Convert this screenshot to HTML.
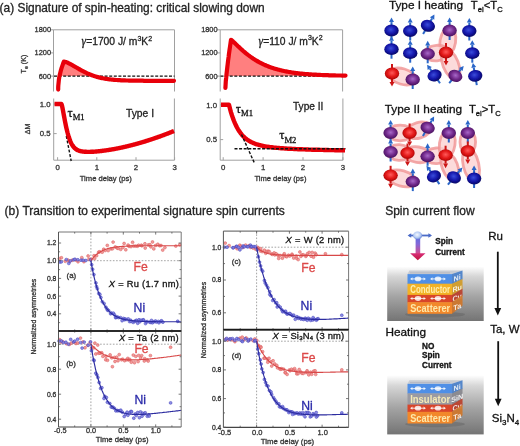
<!DOCTYPE html>
<html><head><meta charset="utf-8"><style>
html,body{margin:0;padding:0;background:#fff;}
svg{display:block;font-family:"Liberation Sans", Arial, sans-serif;}
text{paint-order:stroke;stroke-width:0.3px;stroke-linejoin:round;}
</style></head><body>
<svg width="520" height="446" viewBox="0 0 520 446">
<defs>
<filter id="soft" x="-5%" y="-5%" width="110%" height="110%"><feGaussianBlur stdDeviation="0.35"/></filter>
<radialGradient id="gb" cx="0.45" cy="0.42" r="0.62"><stop offset="0" stop-color="#3a4cdc"/><stop offset="0.55" stop-color="#1416a8"/><stop offset="1" stop-color="#06065a"/></radialGradient>
<radialGradient id="gp" cx="0.5" cy="0.45" r="0.62"><stop offset="0" stop-color="#a868c8"/><stop offset="0.5" stop-color="#722a8c"/><stop offset="1" stop-color="#3a0a50"/></radialGradient>
<radialGradient id="gr" cx="0.5" cy="0.45" r="0.62"><stop offset="0" stop-color="#ff5a5a"/><stop offset="0.55" stop-color="#e01414"/><stop offset="1" stop-color="#980a0a"/></radialGradient>
<linearGradient id="gbg" x1="0" y1="0" x2="0" y2="1"><stop offset="0" stop-color="#ffffff"/><stop offset="0.18" stop-color="#d6d6d6"/><stop offset="0.55" stop-color="#a4a4a4"/><stop offset="1" stop-color="#747474"/></linearGradient>
<linearGradient id="gbg2" x1="0" y1="0" x2="1" y2="0"><stop offset="0" stop-color="#fff" stop-opacity="0"/><stop offset="0.6" stop-color="#fff" stop-opacity="0.05"/><stop offset="1" stop-color="#fff" stop-opacity="0.3"/></linearGradient>
<linearGradient id="gshaft" x1="0" y1="0" x2="0" y2="1"><stop offset="0" stop-color="#5a6ee0"/><stop offset="0.45" stop-color="#8468d8"/><stop offset="1" stop-color="#d64a8a"/></linearGradient>
<linearGradient id="ghead" x1="0" y1="0" x2="0" y2="1"><stop offset="0" stop-color="#d8307a"/><stop offset="1" stop-color="#c0103a"/></linearGradient>
<radialGradient id="gsph" cx="0.45" cy="0.4" r="0.6"><stop offset="0" stop-color="#f4f8ff"/><stop offset="0.6" stop-color="#b8cef4"/><stop offset="1" stop-color="#6a86d8"/></radialGradient>
</defs>
<rect width="520" height="446" fill="#fff"/>
<text x="-0.4" y="11.5" font-size="11.9" fill="#222" stroke="#222" text-anchor="start" >(a) Signature of spin-heating: critical slowing down</text>
<text x="4.6" y="214.6" font-size="12" fill="#222" stroke="#222" text-anchor="start" >(b) Transition to experimental signature spin currents</text>
<text x="385.2" y="214.8" font-size="12" fill="#222" stroke="#222" text-anchor="start" >Spin current flow</text>
<path d="M53.5 91.5V29.8H174.5V91.5" fill="none" stroke="#a0a0a0" stroke-width="1"/>
<line x1="50.5" y1="29.8" x2="53.5" y2="29.8" stroke="#a0a0a0" stroke-width="1"/>
<text x="51" y="32.2" font-size="7.4" fill="#333" stroke="#333" text-anchor="end" >1800</text>
<line x1="50.5" y1="52.9" x2="53.5" y2="52.9" stroke="#a0a0a0" stroke-width="1"/>
<text x="51" y="55.3" font-size="7.4" fill="#333" stroke="#333" text-anchor="end" >1200</text>
<line x1="50.5" y1="76.1" x2="53.5" y2="76.1" stroke="#a0a0a0" stroke-width="1"/>
<text x="51" y="78.5" font-size="7.4" fill="#333" stroke="#333" text-anchor="end" >600</text>
<path d="M220.2 91.5V29.8H342.6V91.5" fill="none" stroke="#a0a0a0" stroke-width="1"/>
<line x1="217.2" y1="29.8" x2="220.2" y2="29.8" stroke="#a0a0a0" stroke-width="1"/>
<text x="217.6" y="32.2" font-size="7.4" fill="#333" stroke="#333" text-anchor="end" >1800</text>
<line x1="217.2" y1="52.9" x2="220.2" y2="52.9" stroke="#a0a0a0" stroke-width="1"/>
<text x="217.6" y="55.3" font-size="7.4" fill="#333" stroke="#333" text-anchor="end" >1200</text>
<line x1="217.2" y1="76.1" x2="220.2" y2="76.1" stroke="#a0a0a0" stroke-width="1"/>
<text x="217.6" y="78.5" font-size="7.4" fill="#333" stroke="#333" text-anchor="end" >600</text>
<polygon points="58.2,76.1 58.2,76.1 58.2,76.1 58.3,76.1 58.5,76.1 58.7,76.1 58.9,76.1 59.2,76.1 59.6,75.6 60.1,73.6 60.6,71.6 61.1,69.6 61.7,67.6 62.4,65.6 63.1,63.6 63.9,61.6 64.9,61.8 65.9,62 66.9,62.4 67.9,62.8 68.9,63.3 69.9,63.8 70.9,64.4 71.9,64.9 72.9,65.5 73.9,66.1 74.9,66.6 75.9,67.2 76.9,67.8 77.9,68.4 78.9,69 79.9,69.5 80.9,70.1 81.9,70.7 82.9,71.2 83.9,71.7 84.9,72.2 85.9,72.7 86.9,73.2 87.9,73.6 88.9,74 89.9,74.5 90.9,74.8 91.9,75.2 92.9,75.6 93.9,75.9 94.9,76.1 95.9,76.1 96.9,76.1 97.9,76.1 98.9,76.1 99.9,76.1 100.9,76.1 101.9,76.1 102.9,76.1 103.9,76.1 104.9,76.1 105.9,76.1 106.9,76.1 107.9,76.1 108.9,76.1 109.9,76.1 110.9,76.1 111.9,76.1 112.9,76.1 113.9,76.1 114.9,76.1 115.9,76.1 116.9,76.1 117.9,76.1 118.9,76.1 119.9,76.1 120.9,76.1 121.9,76.1 122.9,76.1 123.9,76.1 124.9,76.1 125.9,76.1 126.9,76.1 127.9,76.1 128.9,76.1 129.9,76.1 130.9,76.1 131.9,76.1 132.9,76.1 133.9,76.1 134.9,76.1 135.9,76.1 136.9,76.1 137.9,76.1 138.9,76.1 139.9,76.1 140.9,76.1 141.9,76.1 142.9,76.1 143.9,76.1 144.9,76.1 145.9,76.1 146.9,76.1 147.9,76.1 148.9,76.1 149.9,76.1 150.9,76.1 151.9,76.1 152.9,76.1 153.9,76.1 154.9,76.1 155.9,76.1 156.9,76.1 157.9,76.1 158.9,76.1 159.9,76.1 160.9,76.1 161.9,76.1 162.9,76.1 163.9,76.1 164.9,76.1 165.9,76.1 166.9,76.1 167.9,76.1 168.9,76.1 169.9,76.1 170.9,76.1 171.9,76.1 172.9,76.1 173.9,76.1 174,76.1 174,76.1" fill="#ff7f7f"/>
<line x1="54" y1="76.1" x2="174.5" y2="76.1" stroke="#111" stroke-width="1.4" stroke-dasharray="3 1.6"/>
<polyline points="58.2,89.6 58.2,87.6 58.3,85.6 58.5,83.6 58.7,81.6 58.9,79.6 59.2,77.6 59.6,75.6 60.1,73.6 60.6,71.6 61.1,69.6 61.7,67.6 62.4,65.6 63.1,63.6 63.9,61.6 64.9,61.8 65.9,62 66.9,62.4 67.9,62.8 68.9,63.3 69.9,63.8 70.9,64.4 71.9,64.9 72.9,65.5 73.9,66.1 74.9,66.6 75.9,67.2 76.9,67.8 77.9,68.4 78.9,69 79.9,69.5 80.9,70.1 81.9,70.7 82.9,71.2 83.9,71.7 84.9,72.2 85.9,72.7 86.9,73.2 87.9,73.6 88.9,74 89.9,74.5 90.9,74.8 91.9,75.2 92.9,75.6 93.9,75.9 94.9,76.3 95.9,76.6 96.9,76.9 97.9,77.1 98.9,77.4 99.9,77.6 100.9,77.9 101.9,78.1 102.9,78.3 103.9,78.5 104.9,78.7 105.9,78.8 106.9,79 107.9,79.1 108.9,79.3 109.9,79.4 110.9,79.5 111.9,79.6 112.9,79.7 113.9,79.8 114.9,79.9 115.9,80 116.9,80 117.9,80.1 118.9,80.2 119.9,80.2 120.9,80.3 121.9,80.3 122.9,80.4 123.9,80.4 124.9,80.4 125.9,80.5 126.9,80.5 127.9,80.5 128.9,80.6 129.9,80.6 130.9,80.6 131.9,80.6 132.9,80.6 133.9,80.7 134.9,80.7 135.9,80.7 136.9,80.7 137.9,80.7 138.9,80.7 139.9,80.7 140.9,80.7 141.9,80.7 142.9,80.7 143.9,80.8 144.9,80.8 145.9,80.8 146.9,80.8 147.9,80.8 148.9,80.8 149.9,80.8 150.9,80.8 151.9,80.8 152.9,80.8 153.9,80.8 154.9,80.8 155.9,80.8 156.9,80.8 157.9,80.8 158.9,80.8 159.9,80.8 160.9,80.8 161.9,80.8 162.9,80.8 163.9,80.8 164.9,80.8 165.9,80.8 166.9,80.8 167.9,80.8 168.9,80.8 169.9,80.8 170.9,80.8 171.9,80.8 172.9,80.8 173.9,80.8 174,80.8" fill="none" stroke="#e8000a" stroke-width="4.2" stroke-linejoin="round" stroke-linecap="round"/>
<polygon points="225.4,76.1 225.4,76.1 225.6,76.1 225.8,76.1 226.2,76.1 226.5,74.2 226.9,70.8 227.3,67.3 227.7,63.9 228.1,60.5 228.6,57 229,53.6 229.5,50.1 230,46.7 230.5,43.2 231,39.8 232,40.5 233,41.4 234,42.4 235,43.3 236,44.3 237,45.2 238,46.2 239,47.1 240,48.1 241,49 242,49.9 243,50.8 244,51.6 245,52.5 246,53.3 247,54.1 248,54.9 249,55.6 250,56.4 251,57.1 252,57.8 253,58.5 254,59.1 255,59.8 256,60.4 257,61 258,61.5 259,62.1 260,62.6 261,63.1 262,63.6 263,64.1 264,64.6 265,65 266,65.5 267,65.9 268,66.3 269,66.7 270,67.1 271,67.4 272,67.8 273,68.1 274,68.4 275,68.7 276,69 277,69.3 278,69.6 279,69.8 280,70.1 281,70.3 282,70.6 283,70.8 284,71 285,71.2 286,71.4 287,71.6 288,71.8 289,72 290,72.1 291,72.3 292,72.5 293,72.6 294,72.8 295,72.9 296,73 297,73.1 298,73.3 299,73.4 300,73.5 301,73.6 302,73.7 303,73.8 304,73.9 305,74 306,74.1 307,74.2 308,74.2 309,74.3 310,74.4 311,74.4 312,74.5 313,74.6 314,74.6 315,74.7 316,74.7 317,74.8 318,74.8 319,74.9 320,74.9 321,75 322,75 323,75.1 324,75.1 325,75.1 326,75.2 327,75.2 328,75.2 329,75.3 330,75.3 331,75.3 332,75.4 333,75.4 334,75.4 335,75.4 336,75.5 337,75.5 338,75.5 339,75.5 340,75.5 341,75.5 342,75.6 343,75.6 344,75.6 345,75.6 345.5,75.6 345.5,76.1" fill="#ff7f7f"/>
<line x1="220.5" y1="76.1" x2="346" y2="76.1" stroke="#111" stroke-width="1.4" stroke-dasharray="3 1.6"/>
<polyline points="225.4,88 225.6,84.6 225.8,81.1 226.2,77.7 226.5,74.2 226.9,70.8 227.3,67.3 227.7,63.9 228.1,60.5 228.6,57 229,53.6 229.5,50.1 230,46.7 230.5,43.2 231,39.8 232,40.5 233,41.4 234,42.4 235,43.3 236,44.3 237,45.2 238,46.2 239,47.1 240,48.1 241,49 242,49.9 243,50.8 244,51.6 245,52.5 246,53.3 247,54.1 248,54.9 249,55.6 250,56.4 251,57.1 252,57.8 253,58.5 254,59.1 255,59.8 256,60.4 257,61 258,61.5 259,62.1 260,62.6 261,63.1 262,63.6 263,64.1 264,64.6 265,65 266,65.5 267,65.9 268,66.3 269,66.7 270,67.1 271,67.4 272,67.8 273,68.1 274,68.4 275,68.7 276,69 277,69.3 278,69.6 279,69.8 280,70.1 281,70.3 282,70.6 283,70.8 284,71 285,71.2 286,71.4 287,71.6 288,71.8 289,72 290,72.1 291,72.3 292,72.5 293,72.6 294,72.8 295,72.9 296,73 297,73.1 298,73.3 299,73.4 300,73.5 301,73.6 302,73.7 303,73.8 304,73.9 305,74 306,74.1 307,74.2 308,74.2 309,74.3 310,74.4 311,74.4 312,74.5 313,74.6 314,74.6 315,74.7 316,74.7 317,74.8 318,74.8 319,74.9 320,74.9 321,75 322,75 323,75.1 324,75.1 325,75.1 326,75.2 327,75.2 328,75.2 329,75.3 330,75.3 331,75.3 332,75.4 333,75.4 334,75.4 335,75.4 336,75.5 337,75.5 338,75.5 339,75.5 340,75.5 341,75.5 342,75.6 343,75.6 344,75.6 345,75.6 345.5,75.6" fill="none" stroke="#e8000a" stroke-width="4.2" stroke-linejoin="round" stroke-linecap="round"/>
<text x="81.6" y="45.3" font-size="10.3" fill="#222" stroke="#222" text-anchor="start" ><tspan font-family="Liberation Serif" font-style="italic" font-size="11.5">&#947;</tspan>=1700 J/ m<tspan font-size="7" dy="-4.2">3</tspan><tspan dy="4.2">K</tspan><tspan font-size="7" dy="-4.2">2</tspan></text>
<text x="258.6" y="44.6" font-size="10.3" fill="#222" stroke="#222" text-anchor="start" ><tspan font-family="Liberation Serif" font-style="italic" font-size="11.5">&#947;</tspan>=110 J/ m<tspan font-size="7" dy="-4.2">3</tspan><tspan dy="4.2">K</tspan><tspan font-size="7" dy="-4.2">2</tspan></text>
<text transform="translate(26.4,64) rotate(-90)" font-size="7.2" fill="#333" stroke="#333" text-anchor="middle">T<tspan font-size="5" dy="1.5">e</tspan><tspan dy="-1.5"> (K)</tspan></text>
<path d="M53.7 98.5V160.2H174.4V98.5" fill="none" stroke="#a0a0a0" stroke-width="1"/>
<line x1="53.7" y1="104" x2="56.7" y2="104" stroke="#a0a0a0" stroke-width="1"/>
<text x="50.5" y="106.8" font-size="7.8" fill="#333" stroke="#333" text-anchor="end" >1.0</text>
<line x1="53.7" y1="133.6" x2="56.7" y2="133.6" stroke="#a0a0a0" stroke-width="1"/>
<text x="50.5" y="136.4" font-size="7.8" fill="#333" stroke="#333" text-anchor="end" >0.5</text>
<line x1="57.6" y1="160.2" x2="57.6" y2="157.2" stroke="#a0a0a0" stroke-width="1"/>
<text x="57.6" y="169.6" font-size="7.8" fill="#333" stroke="#333" text-anchor="middle" >0</text>
<line x1="96.8" y1="160.2" x2="96.8" y2="157.2" stroke="#a0a0a0" stroke-width="1"/>
<text x="96.8" y="169.6" font-size="7.8" fill="#333" stroke="#333" text-anchor="middle" >1</text>
<line x1="136" y1="160.2" x2="136" y2="157.2" stroke="#a0a0a0" stroke-width="1"/>
<text x="136" y="169.6" font-size="7.8" fill="#333" stroke="#333" text-anchor="middle" >2</text>
<line x1="174.6" y1="160.2" x2="174.6" y2="157.2" stroke="#a0a0a0" stroke-width="1"/>
<text x="174.6" y="169.6" font-size="7.8" fill="#333" stroke="#333" text-anchor="middle" >3</text>
<path d="M220.2 98.5V160.2H342.9V98.5" fill="none" stroke="#a0a0a0" stroke-width="1"/>
<line x1="220.2" y1="104.8" x2="223.2" y2="104.8" stroke="#a0a0a0" stroke-width="1"/>
<text x="217" y="107.6" font-size="7.8" fill="#333" stroke="#333" text-anchor="end" >1.0</text>
<line x1="220.2" y1="139.6" x2="223.2" y2="139.6" stroke="#a0a0a0" stroke-width="1"/>
<text x="217" y="142.4" font-size="7.8" fill="#333" stroke="#333" text-anchor="end" >0.5</text>
<line x1="223.2" y1="160.2" x2="223.2" y2="157.2" stroke="#a0a0a0" stroke-width="1"/>
<text x="223.2" y="169.6" font-size="7.8" fill="#333" stroke="#333" text-anchor="middle" >0</text>
<line x1="263.1" y1="160.2" x2="263.1" y2="157.2" stroke="#a0a0a0" stroke-width="1"/>
<text x="263.1" y="169.6" font-size="7.8" fill="#333" stroke="#333" text-anchor="middle" >1</text>
<line x1="303" y1="160.2" x2="303" y2="157.2" stroke="#a0a0a0" stroke-width="1"/>
<text x="303" y="169.6" font-size="7.8" fill="#333" stroke="#333" text-anchor="middle" >2</text>
<line x1="342.9" y1="160.2" x2="342.9" y2="157.2" stroke="#a0a0a0" stroke-width="1"/>
<text x="342.9" y="169.6" font-size="7.8" fill="#333" stroke="#333" text-anchor="middle" >3</text>
<line x1="66.3" y1="136" x2="71.2" y2="161" stroke="#111" stroke-width="1.4" stroke-dasharray="3 1.6"/>
<polyline points="54.5,104 55,104 55.5,104 56,104 56.5,104 57,104 57.5,104 58,104 58.5,104 59,104 59.5,104 60,104 60.5,104 61,104 61.5,104 62,105.7 62.5,108 63,110.6 63.5,113.3 64,116 64.5,118.7 65,121.3 65.5,123.8 66,126.2 66.5,128.4 67,130.5 67.5,132.5 68,134.3 68.5,136 69,137.6 69.5,139 70,140.4 70.5,141.6 71,142.7 71.5,143.7 72,144.6 72.5,145.4 73,146.1 73.5,146.8 74,147.4 74.5,147.9 75,148.4 75.5,148.8 76,149.2 76.5,149.5 77,149.8 77.5,150.1 78,150.3 78.5,150.5 79,150.7 79.5,150.9 80,151 80.5,151.1 81,151.3 81.5,151.4 82,151.4 82.5,151.5 83,151.6 83.5,151.6 84,151.7 84.5,151.7 85,151.8 85.5,151.8 86,151.8 86.5,151.8 87,151.9 87.5,151.9 88,151.9 88.5,151.9 89,151.9 89.5,151.9 90,151.9 90.5,151.8 91,151.8 91.5,151.8 92,151.8 92.5,151.8 93,151.7 93.5,151.7 94,151.7 94.5,151.6 95,151.6 95.5,151.6 96,151.5 96.5,151.5 97,151.4 97.5,151.4 98,151.3 98.5,151.3 99,151.2 99.5,151.2 100,151.1 100.5,151.1 101,151 101.5,151 102,150.9 102.5,150.8 103,150.8 103.5,150.7 104,150.6 104.5,150.6 105,150.5 105.5,150.4 106,150.4 106.5,150.3 107,150.2 107.5,150.1 108,150.1 108.5,150 109,149.9 109.5,149.8 110,149.8 110.5,149.7 111,149.6 111.5,149.5 112,149.4 112.5,149.3 113,149.2 113.5,149.2 114,149.1 114.5,149 115,148.9 115.5,148.8 116,148.7 116.5,148.6 117,148.5 117.5,148.4 118,148.3 118.5,148.2 119,148.1 119.5,148 120,147.9 120.5,147.8 121,147.7 121.5,147.6 122,147.5 122.5,147.4 123,147.2 123.5,147.1 124,147 124.5,146.9 125,146.8 125.5,146.7 126,146.6 126.5,146.4 127,146.3 127.5,146.2 128,146.1 128.5,146 129,145.8 129.5,145.7 130,145.6 130.5,145.5 131,145.3 131.5,145.2 132,145.1 132.5,145 133,144.8 133.5,144.7 134,144.6 134.5,144.4 135,144.3 135.5,144.2 136,144 136.5,143.9 137,143.8 137.5,143.6 138,143.5 138.5,143.3 139,143.2 139.5,143 140,142.9 140.5,142.8 141,142.6 141.5,142.5 142,142.3 142.5,142.2 143,142 143.5,141.9 144,141.7 144.5,141.6 145,141.4 145.5,141.3 146,141.1 146.5,140.9 147,140.8 147.5,140.6 148,140.5 148.5,140.3 149,140.1 149.5,140 150,139.8 150.5,139.7 151,139.5 151.5,139.3 152,139.2 152.5,139 153,138.8 153.5,138.7 154,138.5 154.5,138.3 155,138.1 155.5,138 156,137.8 156.5,137.6 157,137.5 157.5,137.3 158,137.1 158.5,136.9 159,136.7 159.5,136.6 160,136.4 160.5,136.2 161,136 161.5,135.8 162,135.7 162.5,135.5 163,135.3 163.5,135.1 164,134.9 164.5,134.7 165,134.5 165.5,134.3 166,134.2 166.5,134 167,133.8 167.5,133.6 168,133.4 168.5,133.2 169,133 169.5,132.8 170,132.6 170.5,132.4 171,132.2 171.5,132 172,131.8 172.5,131.6 173,131.4 173.5,131.2 174,131" fill="none" stroke="#e8000a" stroke-width="4.4" stroke-linejoin="round"/>
<polyline points="221,104.8 222,104.8 223,104.8 224,104.8 225,104.8 226,104.8 227,104.8 228,104.8 229,104.8 230,108.7 231,112.3 232,115.5 233,118.4 234,121 235,123.4 236,125.5 237,127.5 238,129.3 239,130.9 240,132.3 241,133.7 242,134.9 243,136 244,137 245,137.9 246,138.7 247,139.5 248,140.2 249,140.8 250,141.4 251,142 252,142.4 253,142.9 254,143.3 255,143.7 256,144.1 257,144.4 258,144.7 259,145 260,145.2 261,145.5 262,145.7 263,145.9 264,146.1 265,146.3 266,146.5 267,146.6 268,146.8 269,146.9 270,147.1 271,147.2 272,147.3 273,147.4 274,147.6 275,147.7 276,147.8 277,147.9 278,147.9 279,148 280,148.1 281,148.2 282,148.3 283,148.3 284,148.4 285,148.5 286,148.5 287,148.6 288,148.7 289,148.7 290,148.8 291,148.8 292,148.9 293,148.9 294,149 295,149 296,149.1 297,149.1 298,149.2 299,149.2 300,149.3 301,149.3 302,149.3 303,149.4 304,149.4 305,149.4 306,149.5 307,149.5 308,149.5 309,149.6 310,149.6 311,149.6 312,149.7 313,149.7 314,149.7 315,149.7 316,149.8 317,149.8 318,149.8 319,149.8 320,149.9 321,149.9 322,149.9 323,149.9 324,150 325,150 326,150 327,150 328,150 329,150.1 330,150.1 331,150.1 332,150.1 333,150.1 334,150.1 335,150.2 336,150.2 337,150.2 338,150.2 339,150.2 340,150.2 341,150.3 342,150.3 343,150.3 344,150.3 345,150.3" fill="none" stroke="#e8000a" stroke-width="4.4" stroke-linejoin="round"/>
<line x1="241.5" y1="134.5" x2="254.2" y2="162.5" stroke="#111" stroke-width="1.4" stroke-dasharray="3 1.6"/>
<line x1="234.5" y1="148.8" x2="345.5" y2="148.8" stroke="#111" stroke-width="1.4" stroke-dasharray="3 1.6"/>
<text x="67.4" y="116.6" font-size="13" fill="#111" stroke="#111" stroke-width="0.2" font-family='"Liberation Serif", "Times New Roman", serif'>&#964;<tspan font-size="8.6" dy="3.8">M1</tspan></text>
<text x="235.8" y="112.6" font-size="13" fill="#111" stroke="#111" stroke-width="0.2" font-family='"Liberation Serif", "Times New Roman", serif'>&#964;<tspan font-size="8.6" dy="3.8">M1</tspan></text>
<text x="279.2" y="138.8" font-size="13" fill="#111" stroke="#111" stroke-width="0.2" font-family='"Liberation Serif", "Times New Roman", serif'>&#964;<tspan font-size="8.6" dy="3.8">M2</tspan></text>
<text x="126" y="117" font-size="10.3" fill="#222" stroke="#222" text-anchor="start" >Type I</text>
<text x="293" y="110.4" font-size="10.1" fill="#222" stroke="#222" text-anchor="start" >Type II</text>
<text x="105.8" y="180.9" font-size="7.6" fill="#333" stroke="#333" text-anchor="middle" >Time delay (ps)</text>
<text x="280.4" y="181.2" font-size="7.6" fill="#333" stroke="#333" text-anchor="middle" >Time delay (ps)</text>
<text transform="translate(29.5,129) rotate(-90)" font-size="7" fill="#333" stroke="#333" text-anchor="middle">&#916;M</text>
<text x="388.9" y="8.6" font-size="11.8" fill="#111" stroke="#111" text-anchor="start" >Type I heating</text>
<text x="470.8" y="8.6" font-size="11.3" fill="#111" stroke="#111" text-anchor="start" >T<tspan font-size="7.6" dy="3">el</tspan><tspan dy="-3">&lt;T</tspan><tspan font-size="7.6" dy="3">C</tspan></text>
<text x="384.7" y="112.6" font-size="11.8" fill="#111" stroke="#111" text-anchor="start" >Type II heating</text>
<text x="468.9" y="112.6" font-size="11.3" fill="#111" stroke="#111" text-anchor="start" >T<tspan font-size="7.6" dy="3">el</tspan><tspan dy="-3">&gt;T</tspan><tspan font-size="7.6" dy="3">C</tspan></text>
<g filter="url(#soft)">
<ellipse cx="447.8" cy="41.5" rx="14.6" ry="7.8" transform="rotate(99.3 447.8 41.5)" fill="#fbd2d2" fill-opacity="0.8" stroke="#f09494" stroke-width="2.8" stroke-opacity="0.8"/>
<ellipse cx="436.8" cy="53.1" rx="12.8" ry="7.8" transform="rotate(-4 436.8 53.1)" fill="#fbd2d2" fill-opacity="0.8" stroke="#f09494" stroke-width="2.8" stroke-opacity="0.8"/>
<ellipse cx="450.6" cy="64.2" rx="16.1" ry="7.8" transform="rotate(68.3 450.6 64.2)" fill="#fbd2d2" fill-opacity="0.8" stroke="#f09494" stroke-width="2.8" stroke-opacity="0.8"/>
<ellipse cx="402.4" cy="76.5" rx="14.3" ry="7.8" transform="rotate(16.2 402.4 76.5)" fill="#fbd2d2" fill-opacity="0.8" stroke="#f09494" stroke-width="2.8" stroke-opacity="0.8"/>
<line x1="391.5" y1="40" x2="391.5" y2="22.1" stroke="#2a66c8" stroke-width="2"/>
<polygon points="391.5,17.5 394,22.1 389,22.1" fill="#2a66c8"/>
<ellipse cx="391.5" cy="30.5" rx="7.2" ry="5.9" fill="url(#gb)"/>
<line x1="410.2" y1="40.5" x2="410.2" y2="22.6" stroke="#2a66c8" stroke-width="2"/>
<polygon points="410.2,18 412.7,22.6 407.7,22.6" fill="#2a66c8"/>
<ellipse cx="410.2" cy="31" rx="7.2" ry="5.9" fill="url(#gb)"/>
<line x1="423.1" y1="34" x2="432.1" y2="18.5" stroke="#2a66c8" stroke-width="2"/>
<polygon points="434.4,14.5 434.3,19.8 429.9,17.3" fill="#2a66c8"/>
<ellipse cx="427.9" cy="25.8" rx="7.2" ry="5.9" fill="url(#gb)" transform="rotate(18 427.9 25.8)"/>
<line x1="449.6" y1="40" x2="449.6" y2="22.1" stroke="#2a66c8" stroke-width="2"/>
<polygon points="449.6,17.5 452.1,22.1 447.1,22.1" fill="#2a66c8"/>
<ellipse cx="449.6" cy="30.5" rx="7.2" ry="5.9" fill="url(#gp)"/>
<line x1="469.3" y1="40.5" x2="469.3" y2="22.6" stroke="#2a66c8" stroke-width="2"/>
<polygon points="469.3,18 471.8,22.6 466.8,22.6" fill="#2a66c8"/>
<ellipse cx="469.3" cy="31" rx="7.2" ry="5.9" fill="url(#gb)"/>
<line x1="391.5" y1="58.7" x2="391.5" y2="40.8" stroke="#2a66c8" stroke-width="2"/>
<polygon points="391.5,36.2 394,40.8 389,40.8" fill="#2a66c8"/>
<ellipse cx="391.5" cy="49.2" rx="7.2" ry="5.9" fill="url(#gb)"/>
<line x1="410.2" y1="62.7" x2="410.2" y2="44.8" stroke="#2a66c8" stroke-width="2"/>
<polygon points="410.2,40.2 412.7,44.8 407.7,44.8" fill="#2a66c8"/>
<ellipse cx="410.2" cy="53.2" rx="7.2" ry="5.9" fill="url(#gb)"/>
<line x1="427.7" y1="63.3" x2="427.7" y2="45.4" stroke="#2a66c8" stroke-width="2"/>
<polygon points="427.7,40.8 430.2,45.4 425.2,45.4" fill="#2a66c8"/>
<ellipse cx="427.7" cy="53.8" rx="7.2" ry="5.9" fill="url(#gp)"/>
<line x1="446" y1="43" x2="446" y2="60.9" stroke="#cc1414" stroke-width="2"/>
<polygon points="446,65.5 443.5,60.9 448.5,60.9" fill="#cc1414"/>
<ellipse cx="446" cy="52.5" rx="7.2" ry="5.9" fill="url(#gr)"/>
<line x1="472.3" y1="62.7" x2="472.3" y2="44.8" stroke="#2a66c8" stroke-width="2"/>
<polygon points="472.3,40.2 474.8,44.8 469.8,44.8" fill="#2a66c8"/>
<ellipse cx="472.3" cy="53.2" rx="7.2" ry="5.9" fill="url(#gb)"/>
<line x1="392" y1="64" x2="392" y2="81.9" stroke="#cc1414" stroke-width="2"/>
<polygon points="392,86.5 389.5,81.9 394.5,81.9" fill="#cc1414"/>
<ellipse cx="392" cy="73.5" rx="7.2" ry="5.9" fill="url(#gr)"/>
<line x1="412.7" y1="89" x2="412.7" y2="71.1" stroke="#2a66c8" stroke-width="2"/>
<polygon points="412.7,66.5 415.2,71.1 410.2,71.1" fill="#2a66c8"/>
<ellipse cx="412.7" cy="79.5" rx="7.2" ry="5.9" fill="url(#gp)"/>
<line x1="440" y1="83.2" x2="429.8" y2="68.5" stroke="#2a66c8" stroke-width="2"/>
<polygon points="427.1,64.8 431.8,67.1 427.7,70" fill="#2a66c8"/>
<ellipse cx="434.6" cy="75.4" rx="7.2" ry="5.9" fill="url(#gb)" transform="rotate(-21 434.6 75.4)"/>
<line x1="449.2" y1="83.2" x2="460.7" y2="69.5" stroke="#2a66c8" stroke-width="2"/>
<polygon points="463.7,65.9 462.6,71.1 458.8,67.9" fill="#2a66c8"/>
<ellipse cx="455.3" cy="75.9" rx="7.2" ry="5.9" fill="url(#gp)" transform="rotate(24 455.3 75.9)"/>
<line x1="476.8" y1="85.2" x2="473.7" y2="67.5" stroke="#2a66c8" stroke-width="2"/>
<polygon points="472.9,63 476.2,67.1 471.3,68" fill="#2a66c8"/>
<ellipse cx="475.2" cy="75.8" rx="7.2" ry="5.9" fill="url(#gb)" transform="rotate(-6 475.2 75.8)"/>
<ellipse cx="400.1" cy="133" rx="13" ry="7.8" transform="rotate(0 400.1 133)" fill="#fbd2d2" fill-opacity="0.8" stroke="#f09494" stroke-width="2.8" stroke-opacity="0.8"/>
<ellipse cx="418.6" cy="130.3" rx="12.9" ry="7.8" transform="rotate(-16.4 418.6 130.3)" fill="#fbd2d2" fill-opacity="0.8" stroke="#f09494" stroke-width="2.8" stroke-opacity="0.8"/>
<ellipse cx="399.1" cy="152.5" rx="12" ry="7.8" transform="rotate(3.4 399.1 152.5)" fill="#fbd2d2" fill-opacity="0.8" stroke="#f09494" stroke-width="2.8" stroke-opacity="0.8"/>
<ellipse cx="417.6" cy="154.7" rx="13.7" ry="7.8" transform="rotate(9.3 417.6 154.7)" fill="#fbd2d2" fill-opacity="0.8" stroke="#f09494" stroke-width="2.8" stroke-opacity="0.8"/>
<ellipse cx="436.6" cy="155.8" rx="12.5" ry="7.8" transform="rotate(-3.5 436.6 155.8)" fill="#fbd2d2" fill-opacity="0.8" stroke="#f09494" stroke-width="2.8" stroke-opacity="0.8"/>
<ellipse cx="447.2" cy="144.1" rx="14.7" ry="7.8" transform="rotate(98.2 447.2 144.1)" fill="#fbd2d2" fill-opacity="0.8" stroke="#f09494" stroke-width="2.8" stroke-opacity="0.8"/>
<ellipse cx="449.8" cy="166.3" rx="15.4" ry="7.8" transform="rotate(69.3 449.8 166.3)" fill="#fbd2d2" fill-opacity="0.8" stroke="#f09494" stroke-width="2.8" stroke-opacity="0.8"/>
<ellipse cx="467.8" cy="142" rx="12.5" ry="7.8" transform="rotate(90 467.8 142)" fill="#fbd2d2" fill-opacity="0.8" stroke="#f09494" stroke-width="2.8" stroke-opacity="0.8"/>
<ellipse cx="471" cy="164.8" rx="17.6" ry="7.8" transform="rotate(77.1 471 164.8)" fill="#fbd2d2" fill-opacity="0.8" stroke="#f09494" stroke-width="2.8" stroke-opacity="0.8"/>
<ellipse cx="401.7" cy="178.4" rx="15" ry="7.8" transform="rotate(15.8 401.7 178.4)" fill="#fbd2d2" fill-opacity="0.8" stroke="#f09494" stroke-width="2.8" stroke-opacity="0.8"/>
<line x1="390.6" y1="142.5" x2="390.6" y2="124.6" stroke="#2a66c8" stroke-width="2"/>
<polygon points="390.6,120 393.1,124.6 388.1,124.6" fill="#2a66c8"/>
<ellipse cx="390.6" cy="133" rx="7.2" ry="5.9" fill="url(#gp)"/>
<line x1="409.6" y1="123.5" x2="409.6" y2="141.4" stroke="#cc1414" stroke-width="2"/>
<polygon points="409.6,146 407.1,141.4 412.1,141.4" fill="#cc1414"/>
<ellipse cx="409.6" cy="133" rx="7.2" ry="5.9" fill="url(#gr)"/>
<line x1="422.9" y1="135.9" x2="431.8" y2="120.4" stroke="#2a66c8" stroke-width="2"/>
<polygon points="434.1,116.4 434,121.7 429.6,119.2" fill="#2a66c8"/>
<ellipse cx="427.6" cy="127.7" rx="7.2" ry="5.9" fill="url(#gp)" transform="rotate(18 427.6 127.7)"/>
<line x1="448.8" y1="142.5" x2="448.8" y2="124.6" stroke="#2a66c8" stroke-width="2"/>
<polygon points="448.8,120 451.3,124.6 446.3,124.6" fill="#2a66c8"/>
<ellipse cx="448.8" cy="133" rx="7.2" ry="5.9" fill="url(#gp)"/>
<line x1="467.8" y1="142.5" x2="467.8" y2="124.6" stroke="#2a66c8" stroke-width="2"/>
<polygon points="467.8,120 470.3,124.6 465.3,124.6" fill="#2a66c8"/>
<ellipse cx="467.8" cy="133" rx="7.2" ry="5.9" fill="url(#gp)"/>
<line x1="390.6" y1="161.5" x2="390.6" y2="143.6" stroke="#2a66c8" stroke-width="2"/>
<polygon points="390.6,139 393.1,143.6 388.1,143.6" fill="#2a66c8"/>
<ellipse cx="390.6" cy="152" rx="7.2" ry="5.9" fill="url(#gp)"/>
<line x1="407.5" y1="143.5" x2="407.5" y2="161.4" stroke="#cc1414" stroke-width="2"/>
<polygon points="407.5,166 405,161.4 410,161.4" fill="#cc1414"/>
<ellipse cx="407.5" cy="153" rx="7.2" ry="5.9" fill="url(#gr)"/>
<line x1="427.6" y1="165.8" x2="427.6" y2="147.9" stroke="#2a66c8" stroke-width="2"/>
<polygon points="427.6,143.3 430.1,147.9 425.1,147.9" fill="#2a66c8"/>
<ellipse cx="427.6" cy="156.3" rx="7.2" ry="5.9" fill="url(#gp)"/>
<line x1="445.6" y1="145.7" x2="445.6" y2="163.6" stroke="#cc1414" stroke-width="2"/>
<polygon points="445.6,168.2 443.1,163.6 448.1,163.6" fill="#cc1414"/>
<ellipse cx="445.6" cy="155.2" rx="7.2" ry="5.9" fill="url(#gr)"/>
<line x1="467.8" y1="141.5" x2="467.8" y2="159.4" stroke="#cc1414" stroke-width="2"/>
<polygon points="467.8,164 465.3,159.4 470.3,159.4" fill="#cc1414"/>
<ellipse cx="467.8" cy="151" rx="7.2" ry="5.9" fill="url(#gr)"/>
<line x1="390.6" y1="165.8" x2="390.6" y2="183.7" stroke="#cc1414" stroke-width="2"/>
<polygon points="390.6,188.3 388.1,183.7 393.1,183.7" fill="#cc1414"/>
<ellipse cx="390.6" cy="175.3" rx="7.2" ry="5.9" fill="url(#gr)"/>
<line x1="412.8" y1="191.1" x2="412.8" y2="173.2" stroke="#2a66c8" stroke-width="2"/>
<polygon points="412.8,168.6 415.3,173.2 410.3,173.2" fill="#2a66c8"/>
<ellipse cx="412.8" cy="181.6" rx="7.2" ry="5.9" fill="url(#gp)"/>
<line x1="439.4" y1="184.1" x2="429.2" y2="169.4" stroke="#2a66c8" stroke-width="2"/>
<polygon points="426.5,165.7 431.2,168 427.1,170.9" fill="#2a66c8"/>
<ellipse cx="434" cy="176.3" rx="7.2" ry="5.9" fill="url(#gb)" transform="rotate(-21 434 176.3)"/>
<line x1="447.9" y1="184.7" x2="459.4" y2="171" stroke="#2a66c8" stroke-width="2"/>
<polygon points="462.4,167.4 461.3,172.6 457.5,169.4" fill="#2a66c8"/>
<ellipse cx="454" cy="177.4" rx="7.2" ry="5.9" fill="url(#gb)" transform="rotate(24 454 177.4)"/>
<line x1="474.1" y1="188" x2="474.1" y2="170.1" stroke="#2a66c8" stroke-width="2"/>
<polygon points="474.1,165.5 476.6,170.1 471.6,170.1" fill="#2a66c8"/>
<ellipse cx="474.1" cy="178.5" rx="7.2" ry="5.9" fill="url(#gb)"/>
</g>
<line x1="58.5" y1="260.7" x2="181.2" y2="260.7" stroke="#9a9a9a" stroke-width="0.9" stroke-dasharray="1.6 1.6"/>
<line x1="90.9" y1="232" x2="90.9" y2="331" stroke="#9a9a9a" stroke-width="0.9" stroke-dasharray="1.6 1.6"/>
<circle cx="59.4" cy="258.6" r="1.45" fill="#f08a8a" stroke="#d85a5a" stroke-width="0.5" fill-opacity="0.85"/>
<circle cx="61.4" cy="257.8" r="1.45" fill="#f08a8a" stroke="#d85a5a" stroke-width="0.5" fill-opacity="0.85"/>
<circle cx="65.3" cy="261.3" r="1.45" fill="#f08a8a" stroke="#d85a5a" stroke-width="0.5" fill-opacity="0.85"/>
<circle cx="68" cy="260.1" r="1.45" fill="#f08a8a" stroke="#d85a5a" stroke-width="0.5" fill-opacity="0.85"/>
<circle cx="69.4" cy="261.6" r="1.45" fill="#f08a8a" stroke="#d85a5a" stroke-width="0.5" fill-opacity="0.85"/>
<circle cx="72.2" cy="260.3" r="1.45" fill="#f08a8a" stroke="#d85a5a" stroke-width="0.5" fill-opacity="0.85"/>
<circle cx="75.8" cy="260.1" r="1.45" fill="#f08a8a" stroke="#d85a5a" stroke-width="0.5" fill-opacity="0.85"/>
<circle cx="78" cy="261.8" r="1.45" fill="#f08a8a" stroke="#d85a5a" stroke-width="0.5" fill-opacity="0.85"/>
<circle cx="81.8" cy="257.6" r="1.45" fill="#f08a8a" stroke="#d85a5a" stroke-width="0.5" fill-opacity="0.85"/>
<circle cx="83.9" cy="261.7" r="1.45" fill="#f08a8a" stroke="#d85a5a" stroke-width="0.5" fill-opacity="0.85"/>
<circle cx="88.1" cy="256" r="1.45" fill="#f08a8a" stroke="#d85a5a" stroke-width="0.5" fill-opacity="0.85"/>
<circle cx="89" cy="259.3" r="1.45" fill="#f08a8a" stroke="#d85a5a" stroke-width="0.5" fill-opacity="0.85"/>
<circle cx="91.1" cy="259.1" r="1.45" fill="#f08a8a" stroke="#d85a5a" stroke-width="0.5" fill-opacity="0.85"/>
<circle cx="94" cy="255.7" r="1.45" fill="#f08a8a" stroke="#d85a5a" stroke-width="0.5" fill-opacity="0.85"/>
<circle cx="94.6" cy="258.6" r="1.45" fill="#f08a8a" stroke="#d85a5a" stroke-width="0.5" fill-opacity="0.85"/>
<circle cx="96.6" cy="255.7" r="1.45" fill="#f08a8a" stroke="#d85a5a" stroke-width="0.5" fill-opacity="0.85"/>
<circle cx="98.6" cy="252.2" r="1.45" fill="#f08a8a" stroke="#d85a5a" stroke-width="0.5" fill-opacity="0.85"/>
<circle cx="99.7" cy="251.8" r="1.45" fill="#f08a8a" stroke="#d85a5a" stroke-width="0.5" fill-opacity="0.85"/>
<circle cx="102.2" cy="252.2" r="1.45" fill="#f08a8a" stroke="#d85a5a" stroke-width="0.5" fill-opacity="0.85"/>
<circle cx="103.7" cy="249.3" r="1.45" fill="#f08a8a" stroke="#d85a5a" stroke-width="0.5" fill-opacity="0.85"/>
<circle cx="105.2" cy="250.5" r="1.45" fill="#f08a8a" stroke="#d85a5a" stroke-width="0.5" fill-opacity="0.85"/>
<circle cx="107.3" cy="245.4" r="1.45" fill="#f08a8a" stroke="#d85a5a" stroke-width="0.5" fill-opacity="0.85"/>
<circle cx="108.2" cy="250.6" r="1.45" fill="#f08a8a" stroke="#d85a5a" stroke-width="0.5" fill-opacity="0.85"/>
<circle cx="111" cy="248.9" r="1.45" fill="#f08a8a" stroke="#d85a5a" stroke-width="0.5" fill-opacity="0.85"/>
<circle cx="112.5" cy="248.8" r="1.45" fill="#f08a8a" stroke="#d85a5a" stroke-width="0.5" fill-opacity="0.85"/>
<circle cx="113.1" cy="242.1" r="1.45" fill="#f08a8a" stroke="#d85a5a" stroke-width="0.5" fill-opacity="0.85"/>
<circle cx="115.3" cy="247" r="1.45" fill="#f08a8a" stroke="#d85a5a" stroke-width="0.5" fill-opacity="0.85"/>
<circle cx="117.1" cy="248" r="1.45" fill="#f08a8a" stroke="#d85a5a" stroke-width="0.5" fill-opacity="0.85"/>
<circle cx="118.1" cy="248.4" r="1.45" fill="#f08a8a" stroke="#d85a5a" stroke-width="0.5" fill-opacity="0.85"/>
<circle cx="120.7" cy="249.4" r="1.45" fill="#f08a8a" stroke="#d85a5a" stroke-width="0.5" fill-opacity="0.85"/>
<circle cx="122.9" cy="247.5" r="1.45" fill="#f08a8a" stroke="#d85a5a" stroke-width="0.5" fill-opacity="0.85"/>
<circle cx="124.1" cy="243.5" r="1.45" fill="#f08a8a" stroke="#d85a5a" stroke-width="0.5" fill-opacity="0.85"/>
<circle cx="125.8" cy="249.8" r="1.45" fill="#f08a8a" stroke="#d85a5a" stroke-width="0.5" fill-opacity="0.85"/>
<circle cx="128.1" cy="245.1" r="1.45" fill="#f08a8a" stroke="#d85a5a" stroke-width="0.5" fill-opacity="0.85"/>
<circle cx="129" cy="246.4" r="1.45" fill="#f08a8a" stroke="#d85a5a" stroke-width="0.5" fill-opacity="0.85"/>
<circle cx="131" cy="246.6" r="1.45" fill="#f08a8a" stroke="#d85a5a" stroke-width="0.5" fill-opacity="0.85"/>
<circle cx="132.6" cy="242.3" r="1.45" fill="#f08a8a" stroke="#d85a5a" stroke-width="0.5" fill-opacity="0.85"/>
<circle cx="133.7" cy="246.1" r="1.45" fill="#f08a8a" stroke="#d85a5a" stroke-width="0.5" fill-opacity="0.85"/>
<circle cx="135.6" cy="246.1" r="1.45" fill="#f08a8a" stroke="#d85a5a" stroke-width="0.5" fill-opacity="0.85"/>
<circle cx="137.4" cy="246.2" r="1.45" fill="#f08a8a" stroke="#d85a5a" stroke-width="0.5" fill-opacity="0.85"/>
<circle cx="138.6" cy="245.3" r="1.45" fill="#f08a8a" stroke="#d85a5a" stroke-width="0.5" fill-opacity="0.85"/>
<circle cx="141.3" cy="245.3" r="1.45" fill="#f08a8a" stroke="#d85a5a" stroke-width="0.5" fill-opacity="0.85"/>
<circle cx="141.9" cy="245.7" r="1.45" fill="#f08a8a" stroke="#d85a5a" stroke-width="0.5" fill-opacity="0.85"/>
<circle cx="144.9" cy="243.8" r="1.45" fill="#f08a8a" stroke="#d85a5a" stroke-width="0.5" fill-opacity="0.85"/>
<circle cx="145.2" cy="248.1" r="1.45" fill="#f08a8a" stroke="#d85a5a" stroke-width="0.5" fill-opacity="0.85"/>
<circle cx="148.3" cy="244.9" r="1.45" fill="#f08a8a" stroke="#d85a5a" stroke-width="0.5" fill-opacity="0.85"/>
<circle cx="149.9" cy="244.7" r="1.45" fill="#f08a8a" stroke="#d85a5a" stroke-width="0.5" fill-opacity="0.85"/>
<circle cx="150.9" cy="246.9" r="1.45" fill="#f08a8a" stroke="#d85a5a" stroke-width="0.5" fill-opacity="0.85"/>
<circle cx="152.5" cy="242" r="1.45" fill="#f08a8a" stroke="#d85a5a" stroke-width="0.5" fill-opacity="0.85"/>
<circle cx="153.8" cy="248.9" r="1.45" fill="#f08a8a" stroke="#d85a5a" stroke-width="0.5" fill-opacity="0.85"/>
<circle cx="155.6" cy="245.5" r="1.45" fill="#f08a8a" stroke="#d85a5a" stroke-width="0.5" fill-opacity="0.85"/>
<circle cx="157.8" cy="244.3" r="1.45" fill="#f08a8a" stroke="#d85a5a" stroke-width="0.5" fill-opacity="0.85"/>
<circle cx="159.6" cy="245.7" r="1.45" fill="#f08a8a" stroke="#d85a5a" stroke-width="0.5" fill-opacity="0.85"/>
<circle cx="161" cy="245.5" r="1.45" fill="#f08a8a" stroke="#d85a5a" stroke-width="0.5" fill-opacity="0.85"/>
<circle cx="162.7" cy="250.1" r="1.45" fill="#f08a8a" stroke="#d85a5a" stroke-width="0.5" fill-opacity="0.85"/>
<circle cx="164.9" cy="247.6" r="1.45" fill="#f08a8a" stroke="#d85a5a" stroke-width="0.5" fill-opacity="0.85"/>
<circle cx="175.8" cy="246.1" r="1.45" fill="#f08a8a" stroke="#d85a5a" stroke-width="0.5" fill-opacity="0.85"/>
<circle cx="179.7" cy="244.8" r="1.45" fill="#f08a8a" stroke="#d85a5a" stroke-width="0.5" fill-opacity="0.85"/>
<circle cx="59.9" cy="262" r="1.45" fill="#7a7ae0" stroke="#4040b8" stroke-width="0.5" fill-opacity="0.85"/>
<circle cx="61.3" cy="261.9" r="1.45" fill="#7a7ae0" stroke="#4040b8" stroke-width="0.5" fill-opacity="0.85"/>
<circle cx="66.3" cy="259.6" r="1.45" fill="#7a7ae0" stroke="#4040b8" stroke-width="0.5" fill-opacity="0.85"/>
<circle cx="68.8" cy="263.4" r="1.45" fill="#7a7ae0" stroke="#4040b8" stroke-width="0.5" fill-opacity="0.85"/>
<circle cx="70.4" cy="260.9" r="1.45" fill="#7a7ae0" stroke="#4040b8" stroke-width="0.5" fill-opacity="0.85"/>
<circle cx="73.7" cy="259.8" r="1.45" fill="#7a7ae0" stroke="#4040b8" stroke-width="0.5" fill-opacity="0.85"/>
<circle cx="74.9" cy="259.3" r="1.45" fill="#7a7ae0" stroke="#4040b8" stroke-width="0.5" fill-opacity="0.85"/>
<circle cx="77.8" cy="259.8" r="1.45" fill="#7a7ae0" stroke="#4040b8" stroke-width="0.5" fill-opacity="0.85"/>
<circle cx="81" cy="260.2" r="1.45" fill="#7a7ae0" stroke="#4040b8" stroke-width="0.5" fill-opacity="0.85"/>
<circle cx="83.2" cy="260.2" r="1.45" fill="#7a7ae0" stroke="#4040b8" stroke-width="0.5" fill-opacity="0.85"/>
<circle cx="85.8" cy="260.5" r="1.45" fill="#7a7ae0" stroke="#4040b8" stroke-width="0.5" fill-opacity="0.85"/>
<circle cx="90.6" cy="260" r="1.45" fill="#7a7ae0" stroke="#4040b8" stroke-width="0.5" fill-opacity="0.85"/>
<circle cx="91.7" cy="264.7" r="1.45" fill="#7a7ae0" stroke="#4040b8" stroke-width="0.5" fill-opacity="0.85"/>
<circle cx="92.6" cy="269.3" r="1.45" fill="#7a7ae0" stroke="#4040b8" stroke-width="0.5" fill-opacity="0.85"/>
<circle cx="93.9" cy="274.6" r="1.45" fill="#7a7ae0" stroke="#4040b8" stroke-width="0.5" fill-opacity="0.85"/>
<circle cx="95.9" cy="282.9" r="1.45" fill="#7a7ae0" stroke="#4040b8" stroke-width="0.5" fill-opacity="0.85"/>
<circle cx="96.5" cy="286.5" r="1.45" fill="#7a7ae0" stroke="#4040b8" stroke-width="0.5" fill-opacity="0.85"/>
<circle cx="97.3" cy="288.7" r="1.45" fill="#7a7ae0" stroke="#4040b8" stroke-width="0.5" fill-opacity="0.85"/>
<circle cx="98.8" cy="293.5" r="1.45" fill="#7a7ae0" stroke="#4040b8" stroke-width="0.5" fill-opacity="0.85"/>
<circle cx="99.9" cy="294.4" r="1.45" fill="#7a7ae0" stroke="#4040b8" stroke-width="0.5" fill-opacity="0.85"/>
<circle cx="100.9" cy="297.5" r="1.45" fill="#7a7ae0" stroke="#4040b8" stroke-width="0.5" fill-opacity="0.85"/>
<circle cx="102.3" cy="301.8" r="1.45" fill="#7a7ae0" stroke="#4040b8" stroke-width="0.5" fill-opacity="0.85"/>
<circle cx="104.1" cy="303.6" r="1.45" fill="#7a7ae0" stroke="#4040b8" stroke-width="0.5" fill-opacity="0.85"/>
<circle cx="105.9" cy="307.2" r="1.45" fill="#7a7ae0" stroke="#4040b8" stroke-width="0.5" fill-opacity="0.85"/>
<circle cx="107" cy="309.1" r="1.45" fill="#7a7ae0" stroke="#4040b8" stroke-width="0.5" fill-opacity="0.85"/>
<circle cx="107.6" cy="310.2" r="1.45" fill="#7a7ae0" stroke="#4040b8" stroke-width="0.5" fill-opacity="0.85"/>
<circle cx="108.6" cy="310.6" r="1.45" fill="#7a7ae0" stroke="#4040b8" stroke-width="0.5" fill-opacity="0.85"/>
<circle cx="110.6" cy="313.8" r="1.45" fill="#7a7ae0" stroke="#4040b8" stroke-width="0.5" fill-opacity="0.85"/>
<circle cx="111.3" cy="313" r="1.45" fill="#7a7ae0" stroke="#4040b8" stroke-width="0.5" fill-opacity="0.85"/>
<circle cx="113.4" cy="313.2" r="1.45" fill="#7a7ae0" stroke="#4040b8" stroke-width="0.5" fill-opacity="0.85"/>
<circle cx="114.5" cy="314.9" r="1.45" fill="#7a7ae0" stroke="#4040b8" stroke-width="0.5" fill-opacity="0.85"/>
<circle cx="115.6" cy="317.7" r="1.45" fill="#7a7ae0" stroke="#4040b8" stroke-width="0.5" fill-opacity="0.85"/>
<circle cx="116.2" cy="317.3" r="1.45" fill="#7a7ae0" stroke="#4040b8" stroke-width="0.5" fill-opacity="0.85"/>
<circle cx="117.2" cy="317" r="1.45" fill="#7a7ae0" stroke="#4040b8" stroke-width="0.5" fill-opacity="0.85"/>
<circle cx="118.5" cy="317.6" r="1.45" fill="#7a7ae0" stroke="#4040b8" stroke-width="0.5" fill-opacity="0.85"/>
<circle cx="120.5" cy="317.6" r="1.45" fill="#7a7ae0" stroke="#4040b8" stroke-width="0.5" fill-opacity="0.85"/>
<circle cx="122.1" cy="320.7" r="1.45" fill="#7a7ae0" stroke="#4040b8" stroke-width="0.5" fill-opacity="0.85"/>
<circle cx="123.4" cy="318.4" r="1.45" fill="#7a7ae0" stroke="#4040b8" stroke-width="0.5" fill-opacity="0.85"/>
<circle cx="124.6" cy="319.8" r="1.45" fill="#7a7ae0" stroke="#4040b8" stroke-width="0.5" fill-opacity="0.85"/>
<circle cx="125" cy="319" r="1.45" fill="#7a7ae0" stroke="#4040b8" stroke-width="0.5" fill-opacity="0.85"/>
<circle cx="126.2" cy="319.4" r="1.45" fill="#7a7ae0" stroke="#4040b8" stroke-width="0.5" fill-opacity="0.85"/>
<circle cx="128.3" cy="318.9" r="1.45" fill="#7a7ae0" stroke="#4040b8" stroke-width="0.5" fill-opacity="0.85"/>
<circle cx="129.5" cy="321.6" r="1.45" fill="#7a7ae0" stroke="#4040b8" stroke-width="0.5" fill-opacity="0.85"/>
<circle cx="130.7" cy="320.3" r="1.45" fill="#7a7ae0" stroke="#4040b8" stroke-width="0.5" fill-opacity="0.85"/>
<circle cx="131" cy="321.5" r="1.45" fill="#7a7ae0" stroke="#4040b8" stroke-width="0.5" fill-opacity="0.85"/>
<circle cx="133.2" cy="322.4" r="1.45" fill="#7a7ae0" stroke="#4040b8" stroke-width="0.5" fill-opacity="0.85"/>
<circle cx="134.4" cy="321.4" r="1.45" fill="#7a7ae0" stroke="#4040b8" stroke-width="0.5" fill-opacity="0.85"/>
<circle cx="135.7" cy="320.9" r="1.45" fill="#7a7ae0" stroke="#4040b8" stroke-width="0.5" fill-opacity="0.85"/>
<circle cx="136.4" cy="320.3" r="1.45" fill="#7a7ae0" stroke="#4040b8" stroke-width="0.5" fill-opacity="0.85"/>
<circle cx="137.7" cy="323.3" r="1.45" fill="#7a7ae0" stroke="#4040b8" stroke-width="0.5" fill-opacity="0.85"/>
<circle cx="139" cy="319.8" r="1.45" fill="#7a7ae0" stroke="#4040b8" stroke-width="0.5" fill-opacity="0.85"/>
<circle cx="139.9" cy="321.7" r="1.45" fill="#7a7ae0" stroke="#4040b8" stroke-width="0.5" fill-opacity="0.85"/>
<circle cx="141.1" cy="320.2" r="1.45" fill="#7a7ae0" stroke="#4040b8" stroke-width="0.5" fill-opacity="0.85"/>
<circle cx="143.2" cy="319.8" r="1.45" fill="#7a7ae0" stroke="#4040b8" stroke-width="0.5" fill-opacity="0.85"/>
<circle cx="143.6" cy="320.2" r="1.45" fill="#7a7ae0" stroke="#4040b8" stroke-width="0.5" fill-opacity="0.85"/>
<circle cx="145.5" cy="323.6" r="1.45" fill="#7a7ae0" stroke="#4040b8" stroke-width="0.5" fill-opacity="0.85"/>
<circle cx="146.4" cy="321.9" r="1.45" fill="#7a7ae0" stroke="#4040b8" stroke-width="0.5" fill-opacity="0.85"/>
<circle cx="147.2" cy="321.6" r="1.45" fill="#7a7ae0" stroke="#4040b8" stroke-width="0.5" fill-opacity="0.85"/>
<circle cx="149.7" cy="322.2" r="1.45" fill="#7a7ae0" stroke="#4040b8" stroke-width="0.5" fill-opacity="0.85"/>
<circle cx="150.9" cy="322.5" r="1.45" fill="#7a7ae0" stroke="#4040b8" stroke-width="0.5" fill-opacity="0.85"/>
<circle cx="151.5" cy="320.4" r="1.45" fill="#7a7ae0" stroke="#4040b8" stroke-width="0.5" fill-opacity="0.85"/>
<circle cx="152.5" cy="322.8" r="1.45" fill="#7a7ae0" stroke="#4040b8" stroke-width="0.5" fill-opacity="0.85"/>
<circle cx="153.8" cy="321.8" r="1.45" fill="#7a7ae0" stroke="#4040b8" stroke-width="0.5" fill-opacity="0.85"/>
<circle cx="155.5" cy="321" r="1.45" fill="#7a7ae0" stroke="#4040b8" stroke-width="0.5" fill-opacity="0.85"/>
<circle cx="156.3" cy="322.1" r="1.45" fill="#7a7ae0" stroke="#4040b8" stroke-width="0.5" fill-opacity="0.85"/>
<circle cx="158.4" cy="321.4" r="1.45" fill="#7a7ae0" stroke="#4040b8" stroke-width="0.5" fill-opacity="0.85"/>
<circle cx="158.9" cy="322.8" r="1.45" fill="#7a7ae0" stroke="#4040b8" stroke-width="0.5" fill-opacity="0.85"/>
<circle cx="160.9" cy="321.4" r="1.45" fill="#7a7ae0" stroke="#4040b8" stroke-width="0.5" fill-opacity="0.85"/>
<circle cx="161.5" cy="320.8" r="1.45" fill="#7a7ae0" stroke="#4040b8" stroke-width="0.5" fill-opacity="0.85"/>
<circle cx="162.9" cy="322.2" r="1.45" fill="#7a7ae0" stroke="#4040b8" stroke-width="0.5" fill-opacity="0.85"/>
<circle cx="177.7" cy="321.3" r="1.45" fill="#7a7ae0" stroke="#4040b8" stroke-width="0.5" fill-opacity="0.85"/>
<polyline points="90.9,260.7 91.5,259.8 92.2,258.9 92.8,258.1 93.5,257.4 94.1,256.7 94.8,256 95.4,255.4 96.1,254.8 96.7,254.2 97.4,253.7 98,253.2 98.7,252.8 99.3,252.3 100,251.9 100.6,251.5 101.3,251.2 101.9,250.9 102.6,250.5 103.2,250.2 103.9,250 104.5,249.7 105.2,249.5 105.8,249.2 106.5,249 107.1,248.8 107.7,248.6 108.4,248.4 109,248.3 109.7,248.1 110.3,248 111,247.8 111.6,247.7 112.3,247.6 112.9,247.5 113.6,247.3 114.2,247.2 114.9,247.1 115.5,247.1 116.2,247 116.8,246.9 117.5,246.8 118.1,246.7 118.8,246.7 119.4,246.6 120.1,246.6 120.7,246.5 121.4,246.5 122,246.4 122.7,246.4 123.3,246.3 123.9,246.3 124.6,246.2 125.2,246.2 125.9,246.2 126.5,246.1 127.2,246.1 127.8,246.1 128.5,246.1 129.1,246 129.8,246 130.4,246 131.1,246 131.7,245.9 132.4,245.9 133,245.9 133.7,245.9 134.3,245.9 135,245.9 135.6,245.9 136.3,245.8 136.9,245.8 137.6,245.8 138.2,245.8 138.9,245.8 139.5,245.8 140.1,245.8 140.8,245.8 141.4,245.8 142.1,245.8 142.7,245.8 143.4,245.8 144,245.7 144.7,245.7 145.3,245.7 146,245.7 146.6,245.7 147.3,245.7 147.9,245.7 148.6,245.7 149.2,245.7 149.9,245.7 150.5,245.7 151.2,245.7 151.8,245.7 152.5,245.7 153.1,245.7 153.8,245.7 154.4,245.7 155.1,245.7 155.7,245.7 156.3,245.7 157,245.7 157.6,245.7 158.3,245.7 158.9,245.7 159.6,245.7 160.2,245.7 160.9,245.7 161.5,245.7 162.2,245.7 162.8,245.7 163.5,245.7 164.1,245.7 164.8,245.7 165.4,245.7 166.1,245.7 166.7,245.7 167.4,245.7 168,245.7 168.7,245.7 169.3,245.7 170,245.7 170.6,245.7 171.3,245.7 171.9,245.7 172.5,245.7 173.2,245.7 173.8,245.7 174.5,245.7 175.1,245.7 175.8,245.7 176.4,245.7 177.1,245.7 177.7,245.7 178.4,245.7 179,245.7 179.7,245.7 180.3,245.7 181,245.7 181.2,245.7" fill="none" stroke="#d84848" stroke-width="1.15"/>
<polyline points="90.9,260.7 91.5,264.4 92.2,267.9 92.8,271.1 93.5,274.2 94.1,277.1 94.8,279.8 95.4,282.3 96.1,284.7 96.7,287 97.4,289.1 98,291.1 98.7,292.9 99.3,294.7 100,296.3 100.6,297.9 101.3,299.3 101.9,300.7 102.6,301.9 103.2,303.1 103.9,304.3 104.5,305.3 105.2,306.3 105.8,307.3 106.5,308.1 107.1,309 107.7,309.7 108.4,310.5 109,311.2 109.7,311.8 110.3,312.4 111,313 111.6,313.5 112.3,314 112.9,314.5 113.6,314.9 114.2,315.3 114.9,315.7 115.5,316.1 116.2,316.4 116.8,316.8 117.5,317.1 118.1,317.3 118.8,317.6 119.4,317.9 120.1,318.1 120.7,318.3 121.4,318.5 122,318.7 122.7,318.9 123.3,319.1 123.9,319.2 124.6,319.4 125.2,319.5 125.9,319.7 126.5,319.8 127.2,319.9 127.8,320 128.5,320.1 129.1,320.2 129.8,320.3 130.4,320.4 131.1,320.5 131.7,320.6 132.4,320.6 133,320.7 133.7,320.8 134.3,320.8 135,320.9 135.6,320.9 136.3,321 136.9,321 137.6,321.1 138.2,321.1 138.9,321.2 139.5,321.2 140.1,321.2 140.8,321.3 141.4,321.3 142.1,321.3 142.7,321.4 143.4,321.4 144,321.4 144.7,321.4 145.3,321.4 146,321.5 146.6,321.5 147.3,321.5 147.9,321.5 148.6,321.5 149.2,321.5 149.9,321.6 150.5,321.6 151.2,321.6 151.8,321.6 152.5,321.6 153.1,321.6 153.8,321.6 154.4,321.6 155.1,321.6 155.7,321.6 156.3,321.7 157,321.7 157.6,321.7 158.3,321.7 158.9,321.7 159.6,321.7 160.2,321.7 160.9,321.7 161.5,321.7 162.2,321.7 162.8,321.7 163.5,321.7 164.1,321.7 164.8,321.7 165.4,321.7 166.1,321.7 166.7,321.7 167.4,321.7 168,321.7 168.7,321.7 169.3,321.7 170,321.7 170.6,321.7 171.3,321.7 171.9,321.7 172.5,321.7 173.2,321.7 173.8,321.7 174.5,321.7 175.1,321.7 175.8,321.7 176.4,321.7 177.1,321.8 177.7,321.8 178.4,321.8 179,321.8 179.7,321.8 180.3,321.8 181,321.8 181.2,321.8" fill="none" stroke="#2c2ca0" stroke-width="1.15"/>
<line x1="58.5" y1="232" x2="181.2" y2="232" stroke="#777" stroke-width="1"/>
<line x1="58.5" y1="331" x2="181.2" y2="331" stroke="#444" stroke-width="1.2"/>
<line x1="58.5" y1="232" x2="58.5" y2="331" stroke="#555" stroke-width="1"/>
<line x1="181.2" y1="232" x2="181.2" y2="331" stroke="#777" stroke-width="1"/>
<line x1="58.5" y1="243" x2="61.1" y2="243" stroke="#555" stroke-width="0.8"/>
<line x1="181.2" y1="243" x2="178.6" y2="243" stroke="#555" stroke-width="0.8"/>
<text x="56.4" y="245.4" font-size="6.8" fill="#333" stroke="#333" text-anchor="end" >1.2</text>
<line x1="58.5" y1="251.8" x2="60.1" y2="251.8" stroke="#555" stroke-width="0.8"/>
<line x1="181.2" y1="251.8" x2="179.6" y2="251.8" stroke="#555" stroke-width="0.8"/>
<line x1="58.5" y1="260.7" x2="61.1" y2="260.7" stroke="#555" stroke-width="0.8"/>
<line x1="181.2" y1="260.7" x2="178.6" y2="260.7" stroke="#555" stroke-width="0.8"/>
<text x="56.4" y="263.1" font-size="6.8" fill="#333" stroke="#333" text-anchor="end" >1.0</text>
<line x1="58.5" y1="269.6" x2="60.1" y2="269.6" stroke="#555" stroke-width="0.8"/>
<line x1="181.2" y1="269.6" x2="179.6" y2="269.6" stroke="#555" stroke-width="0.8"/>
<line x1="58.5" y1="278.4" x2="61.1" y2="278.4" stroke="#555" stroke-width="0.8"/>
<line x1="181.2" y1="278.4" x2="178.6" y2="278.4" stroke="#555" stroke-width="0.8"/>
<text x="56.4" y="280.8" font-size="6.8" fill="#333" stroke="#333" text-anchor="end" >0.8</text>
<line x1="58.5" y1="287.2" x2="60.1" y2="287.2" stroke="#555" stroke-width="0.8"/>
<line x1="181.2" y1="287.2" x2="179.6" y2="287.2" stroke="#555" stroke-width="0.8"/>
<line x1="58.5" y1="296.1" x2="61.1" y2="296.1" stroke="#555" stroke-width="0.8"/>
<line x1="181.2" y1="296.1" x2="178.6" y2="296.1" stroke="#555" stroke-width="0.8"/>
<text x="56.4" y="298.5" font-size="6.8" fill="#333" stroke="#333" text-anchor="end" >0.6</text>
<line x1="58.5" y1="304.9" x2="60.1" y2="304.9" stroke="#555" stroke-width="0.8"/>
<line x1="181.2" y1="304.9" x2="179.6" y2="304.9" stroke="#555" stroke-width="0.8"/>
<line x1="58.5" y1="313.8" x2="61.1" y2="313.8" stroke="#555" stroke-width="0.8"/>
<line x1="181.2" y1="313.8" x2="178.6" y2="313.8" stroke="#555" stroke-width="0.8"/>
<text x="56.4" y="316.2" font-size="6.8" fill="#333" stroke="#333" text-anchor="end" >0.4</text>
<line x1="58.5" y1="322.6" x2="60.1" y2="322.6" stroke="#555" stroke-width="0.8"/>
<line x1="181.2" y1="322.6" x2="179.6" y2="322.6" stroke="#555" stroke-width="0.8"/>
<line x1="74.7" y1="232" x2="74.7" y2="233.6" stroke="#555" stroke-width="0.8"/>
<line x1="74.7" y1="331" x2="74.7" y2="329.4" stroke="#555" stroke-width="0.8"/>
<line x1="90.9" y1="232" x2="90.9" y2="234.6" stroke="#555" stroke-width="0.8"/>
<line x1="90.9" y1="331" x2="90.9" y2="328.4" stroke="#555" stroke-width="0.8"/>
<line x1="107.1" y1="232" x2="107.1" y2="233.6" stroke="#555" stroke-width="0.8"/>
<line x1="107.1" y1="331" x2="107.1" y2="329.4" stroke="#555" stroke-width="0.8"/>
<line x1="123.3" y1="232" x2="123.3" y2="234.6" stroke="#555" stroke-width="0.8"/>
<line x1="123.3" y1="331" x2="123.3" y2="328.4" stroke="#555" stroke-width="0.8"/>
<line x1="139.5" y1="232" x2="139.5" y2="233.6" stroke="#555" stroke-width="0.8"/>
<line x1="139.5" y1="331" x2="139.5" y2="329.4" stroke="#555" stroke-width="0.8"/>
<line x1="155.7" y1="232" x2="155.7" y2="234.6" stroke="#555" stroke-width="0.8"/>
<line x1="155.7" y1="331" x2="155.7" y2="328.4" stroke="#555" stroke-width="0.8"/>
<line x1="171.9" y1="232" x2="171.9" y2="233.6" stroke="#555" stroke-width="0.8"/>
<line x1="171.9" y1="331" x2="171.9" y2="329.4" stroke="#555" stroke-width="0.8"/>
<line x1="58.5" y1="344.2" x2="181.2" y2="344.2" stroke="#9a9a9a" stroke-width="0.9" stroke-dasharray="1.6 1.6"/>
<line x1="90.9" y1="331" x2="90.9" y2="427" stroke="#9a9a9a" stroke-width="0.9" stroke-dasharray="1.6 1.6"/>
<circle cx="59.7" cy="339.7" r="1.45" fill="#f08a8a" stroke="#d85a5a" stroke-width="0.5" fill-opacity="0.85"/>
<circle cx="61.2" cy="342" r="1.45" fill="#f08a8a" stroke="#d85a5a" stroke-width="0.5" fill-opacity="0.85"/>
<circle cx="63.1" cy="341.9" r="1.45" fill="#f08a8a" stroke="#d85a5a" stroke-width="0.5" fill-opacity="0.85"/>
<circle cx="66.5" cy="343.8" r="1.45" fill="#f08a8a" stroke="#d85a5a" stroke-width="0.5" fill-opacity="0.85"/>
<circle cx="69.4" cy="344.4" r="1.45" fill="#f08a8a" stroke="#d85a5a" stroke-width="0.5" fill-opacity="0.85"/>
<circle cx="71.3" cy="343.1" r="1.45" fill="#f08a8a" stroke="#d85a5a" stroke-width="0.5" fill-opacity="0.85"/>
<circle cx="73.7" cy="342.1" r="1.45" fill="#f08a8a" stroke="#d85a5a" stroke-width="0.5" fill-opacity="0.85"/>
<circle cx="76" cy="343.5" r="1.45" fill="#f08a8a" stroke="#d85a5a" stroke-width="0.5" fill-opacity="0.85"/>
<circle cx="77.6" cy="343" r="1.45" fill="#f08a8a" stroke="#d85a5a" stroke-width="0.5" fill-opacity="0.85"/>
<circle cx="80.5" cy="338.1" r="1.45" fill="#f08a8a" stroke="#d85a5a" stroke-width="0.5" fill-opacity="0.85"/>
<circle cx="82.9" cy="342" r="1.45" fill="#f08a8a" stroke="#d85a5a" stroke-width="0.5" fill-opacity="0.85"/>
<circle cx="85" cy="347.8" r="1.45" fill="#f08a8a" stroke="#d85a5a" stroke-width="0.5" fill-opacity="0.85"/>
<circle cx="87.7" cy="345.3" r="1.45" fill="#f08a8a" stroke="#d85a5a" stroke-width="0.5" fill-opacity="0.85"/>
<circle cx="90.2" cy="342.4" r="1.45" fill="#f08a8a" stroke="#d85a5a" stroke-width="0.5" fill-opacity="0.85"/>
<circle cx="91.6" cy="348.3" r="1.45" fill="#f08a8a" stroke="#d85a5a" stroke-width="0.5" fill-opacity="0.85"/>
<circle cx="93.8" cy="347.9" r="1.45" fill="#f08a8a" stroke="#d85a5a" stroke-width="0.5" fill-opacity="0.85"/>
<circle cx="94.9" cy="343.1" r="1.45" fill="#f08a8a" stroke="#d85a5a" stroke-width="0.5" fill-opacity="0.85"/>
<circle cx="95.8" cy="354" r="1.45" fill="#f08a8a" stroke="#d85a5a" stroke-width="0.5" fill-opacity="0.85"/>
<circle cx="97.7" cy="345.1" r="1.45" fill="#f08a8a" stroke="#d85a5a" stroke-width="0.5" fill-opacity="0.85"/>
<circle cx="98.6" cy="353.2" r="1.45" fill="#f08a8a" stroke="#d85a5a" stroke-width="0.5" fill-opacity="0.85"/>
<circle cx="100" cy="353.2" r="1.45" fill="#f08a8a" stroke="#d85a5a" stroke-width="0.5" fill-opacity="0.85"/>
<circle cx="101.7" cy="352.8" r="1.45" fill="#f08a8a" stroke="#d85a5a" stroke-width="0.5" fill-opacity="0.85"/>
<circle cx="102.9" cy="356.4" r="1.45" fill="#f08a8a" stroke="#d85a5a" stroke-width="0.5" fill-opacity="0.85"/>
<circle cx="105.7" cy="359.8" r="1.45" fill="#f08a8a" stroke="#d85a5a" stroke-width="0.5" fill-opacity="0.85"/>
<circle cx="106" cy="356.3" r="1.45" fill="#f08a8a" stroke="#d85a5a" stroke-width="0.5" fill-opacity="0.85"/>
<circle cx="107.5" cy="360.3" r="1.45" fill="#f08a8a" stroke="#d85a5a" stroke-width="0.5" fill-opacity="0.85"/>
<circle cx="110.1" cy="354.9" r="1.45" fill="#f08a8a" stroke="#d85a5a" stroke-width="0.5" fill-opacity="0.85"/>
<circle cx="111.7" cy="357.8" r="1.45" fill="#f08a8a" stroke="#d85a5a" stroke-width="0.5" fill-opacity="0.85"/>
<circle cx="112.4" cy="366.7" r="1.45" fill="#f08a8a" stroke="#d85a5a" stroke-width="0.5" fill-opacity="0.85"/>
<circle cx="114.5" cy="357.4" r="1.45" fill="#f08a8a" stroke="#d85a5a" stroke-width="0.5" fill-opacity="0.85"/>
<circle cx="115" cy="361.5" r="1.45" fill="#f08a8a" stroke="#d85a5a" stroke-width="0.5" fill-opacity="0.85"/>
<circle cx="116.7" cy="357.1" r="1.45" fill="#f08a8a" stroke="#d85a5a" stroke-width="0.5" fill-opacity="0.85"/>
<circle cx="118" cy="360.8" r="1.45" fill="#f08a8a" stroke="#d85a5a" stroke-width="0.5" fill-opacity="0.85"/>
<circle cx="119.2" cy="354.6" r="1.45" fill="#f08a8a" stroke="#d85a5a" stroke-width="0.5" fill-opacity="0.85"/>
<circle cx="121.5" cy="359.8" r="1.45" fill="#f08a8a" stroke="#d85a5a" stroke-width="0.5" fill-opacity="0.85"/>
<circle cx="122.7" cy="359.2" r="1.45" fill="#f08a8a" stroke="#d85a5a" stroke-width="0.5" fill-opacity="0.85"/>
<circle cx="124.6" cy="360.7" r="1.45" fill="#f08a8a" stroke="#d85a5a" stroke-width="0.5" fill-opacity="0.85"/>
<circle cx="126.6" cy="359.8" r="1.45" fill="#f08a8a" stroke="#d85a5a" stroke-width="0.5" fill-opacity="0.85"/>
<circle cx="127.8" cy="358.4" r="1.45" fill="#f08a8a" stroke="#d85a5a" stroke-width="0.5" fill-opacity="0.85"/>
<circle cx="128.6" cy="360" r="1.45" fill="#f08a8a" stroke="#d85a5a" stroke-width="0.5" fill-opacity="0.85"/>
<circle cx="129.7" cy="359.4" r="1.45" fill="#f08a8a" stroke="#d85a5a" stroke-width="0.5" fill-opacity="0.85"/>
<circle cx="131.3" cy="362.2" r="1.45" fill="#f08a8a" stroke="#d85a5a" stroke-width="0.5" fill-opacity="0.85"/>
<circle cx="133.3" cy="355.1" r="1.45" fill="#f08a8a" stroke="#d85a5a" stroke-width="0.5" fill-opacity="0.85"/>
<circle cx="134.5" cy="362.7" r="1.45" fill="#f08a8a" stroke="#d85a5a" stroke-width="0.5" fill-opacity="0.85"/>
<circle cx="135.8" cy="356.4" r="1.45" fill="#f08a8a" stroke="#d85a5a" stroke-width="0.5" fill-opacity="0.85"/>
<circle cx="138.1" cy="361.6" r="1.45" fill="#f08a8a" stroke="#d85a5a" stroke-width="0.5" fill-opacity="0.85"/>
<circle cx="138.7" cy="355.4" r="1.45" fill="#f08a8a" stroke="#d85a5a" stroke-width="0.5" fill-opacity="0.85"/>
<circle cx="140.7" cy="358" r="1.45" fill="#f08a8a" stroke="#d85a5a" stroke-width="0.5" fill-opacity="0.85"/>
<circle cx="141.7" cy="355.6" r="1.45" fill="#f08a8a" stroke="#d85a5a" stroke-width="0.5" fill-opacity="0.85"/>
<circle cx="144.3" cy="361" r="1.45" fill="#f08a8a" stroke="#d85a5a" stroke-width="0.5" fill-opacity="0.85"/>
<circle cx="144.7" cy="358.6" r="1.45" fill="#f08a8a" stroke="#d85a5a" stroke-width="0.5" fill-opacity="0.85"/>
<circle cx="147.3" cy="360" r="1.45" fill="#f08a8a" stroke="#d85a5a" stroke-width="0.5" fill-opacity="0.85"/>
<circle cx="148.2" cy="361.1" r="1.45" fill="#f08a8a" stroke="#d85a5a" stroke-width="0.5" fill-opacity="0.85"/>
<circle cx="150.4" cy="355.6" r="1.45" fill="#f08a8a" stroke="#d85a5a" stroke-width="0.5" fill-opacity="0.85"/>
<circle cx="170.6" cy="347.3" r="1.45" fill="#f08a8a" stroke="#d85a5a" stroke-width="0.5" fill-opacity="0.85"/>
<circle cx="59.1" cy="341.1" r="1.45" fill="#7a7ae0" stroke="#4040b8" stroke-width="0.5" fill-opacity="0.85"/>
<circle cx="61.4" cy="341" r="1.45" fill="#7a7ae0" stroke="#4040b8" stroke-width="0.5" fill-opacity="0.85"/>
<circle cx="63.4" cy="342.6" r="1.45" fill="#7a7ae0" stroke="#4040b8" stroke-width="0.5" fill-opacity="0.85"/>
<circle cx="65.9" cy="342.3" r="1.45" fill="#7a7ae0" stroke="#4040b8" stroke-width="0.5" fill-opacity="0.85"/>
<circle cx="68.5" cy="344.2" r="1.45" fill="#7a7ae0" stroke="#4040b8" stroke-width="0.5" fill-opacity="0.85"/>
<circle cx="70.7" cy="339.4" r="1.45" fill="#7a7ae0" stroke="#4040b8" stroke-width="0.5" fill-opacity="0.85"/>
<circle cx="73.5" cy="342" r="1.45" fill="#7a7ae0" stroke="#4040b8" stroke-width="0.5" fill-opacity="0.85"/>
<circle cx="74.7" cy="341.1" r="1.45" fill="#7a7ae0" stroke="#4040b8" stroke-width="0.5" fill-opacity="0.85"/>
<circle cx="77.6" cy="339.3" r="1.45" fill="#7a7ae0" stroke="#4040b8" stroke-width="0.5" fill-opacity="0.85"/>
<circle cx="80.6" cy="342.6" r="1.45" fill="#7a7ae0" stroke="#4040b8" stroke-width="0.5" fill-opacity="0.85"/>
<circle cx="82.1" cy="348.1" r="1.45" fill="#7a7ae0" stroke="#4040b8" stroke-width="0.5" fill-opacity="0.85"/>
<circle cx="84.2" cy="342.1" r="1.45" fill="#7a7ae0" stroke="#4040b8" stroke-width="0.5" fill-opacity="0.85"/>
<circle cx="88.2" cy="345.3" r="1.45" fill="#7a7ae0" stroke="#4040b8" stroke-width="0.5" fill-opacity="0.85"/>
<circle cx="90.5" cy="341.9" r="1.45" fill="#7a7ae0" stroke="#4040b8" stroke-width="0.5" fill-opacity="0.85"/>
<circle cx="91.4" cy="350.8" r="1.45" fill="#7a7ae0" stroke="#4040b8" stroke-width="0.5" fill-opacity="0.85"/>
<circle cx="93.6" cy="359.9" r="1.45" fill="#7a7ae0" stroke="#4040b8" stroke-width="0.5" fill-opacity="0.85"/>
<circle cx="94.1" cy="360.6" r="1.45" fill="#7a7ae0" stroke="#4040b8" stroke-width="0.5" fill-opacity="0.85"/>
<circle cx="95.8" cy="373.2" r="1.45" fill="#7a7ae0" stroke="#4040b8" stroke-width="0.5" fill-opacity="0.85"/>
<circle cx="96.9" cy="374.9" r="1.45" fill="#7a7ae0" stroke="#4040b8" stroke-width="0.5" fill-opacity="0.85"/>
<circle cx="97.9" cy="377.5" r="1.45" fill="#7a7ae0" stroke="#4040b8" stroke-width="0.5" fill-opacity="0.85"/>
<circle cx="99.1" cy="382.5" r="1.45" fill="#7a7ae0" stroke="#4040b8" stroke-width="0.5" fill-opacity="0.85"/>
<circle cx="100.6" cy="388.4" r="1.45" fill="#7a7ae0" stroke="#4040b8" stroke-width="0.5" fill-opacity="0.85"/>
<circle cx="101.9" cy="387.7" r="1.45" fill="#7a7ae0" stroke="#4040b8" stroke-width="0.5" fill-opacity="0.85"/>
<circle cx="104" cy="398.5" r="1.45" fill="#7a7ae0" stroke="#4040b8" stroke-width="0.5" fill-opacity="0.85"/>
<circle cx="104.8" cy="396.4" r="1.45" fill="#7a7ae0" stroke="#4040b8" stroke-width="0.5" fill-opacity="0.85"/>
<circle cx="106.4" cy="397.5" r="1.45" fill="#7a7ae0" stroke="#4040b8" stroke-width="0.5" fill-opacity="0.85"/>
<circle cx="107.4" cy="402.3" r="1.45" fill="#7a7ae0" stroke="#4040b8" stroke-width="0.5" fill-opacity="0.85"/>
<circle cx="109.8" cy="403.5" r="1.45" fill="#7a7ae0" stroke="#4040b8" stroke-width="0.5" fill-opacity="0.85"/>
<circle cx="111.2" cy="407.1" r="1.45" fill="#7a7ae0" stroke="#4040b8" stroke-width="0.5" fill-opacity="0.85"/>
<circle cx="112.5" cy="407.3" r="1.45" fill="#7a7ae0" stroke="#4040b8" stroke-width="0.5" fill-opacity="0.85"/>
<circle cx="113" cy="407.3" r="1.45" fill="#7a7ae0" stroke="#4040b8" stroke-width="0.5" fill-opacity="0.85"/>
<circle cx="114.5" cy="408.4" r="1.45" fill="#7a7ae0" stroke="#4040b8" stroke-width="0.5" fill-opacity="0.85"/>
<circle cx="115.9" cy="410.9" r="1.45" fill="#7a7ae0" stroke="#4040b8" stroke-width="0.5" fill-opacity="0.85"/>
<circle cx="117.3" cy="410.4" r="1.45" fill="#7a7ae0" stroke="#4040b8" stroke-width="0.5" fill-opacity="0.85"/>
<circle cx="118" cy="410.8" r="1.45" fill="#7a7ae0" stroke="#4040b8" stroke-width="0.5" fill-opacity="0.85"/>
<circle cx="119.9" cy="410.7" r="1.45" fill="#7a7ae0" stroke="#4040b8" stroke-width="0.5" fill-opacity="0.85"/>
<circle cx="120.8" cy="410.2" r="1.45" fill="#7a7ae0" stroke="#4040b8" stroke-width="0.5" fill-opacity="0.85"/>
<circle cx="122.4" cy="412.3" r="1.45" fill="#7a7ae0" stroke="#4040b8" stroke-width="0.5" fill-opacity="0.85"/>
<circle cx="124.2" cy="416.5" r="1.45" fill="#7a7ae0" stroke="#4040b8" stroke-width="0.5" fill-opacity="0.85"/>
<circle cx="125.7" cy="414.1" r="1.45" fill="#7a7ae0" stroke="#4040b8" stroke-width="0.5" fill-opacity="0.85"/>
<circle cx="127.1" cy="412.2" r="1.45" fill="#7a7ae0" stroke="#4040b8" stroke-width="0.5" fill-opacity="0.85"/>
<circle cx="127.9" cy="415.3" r="1.45" fill="#7a7ae0" stroke="#4040b8" stroke-width="0.5" fill-opacity="0.85"/>
<circle cx="130.2" cy="412.1" r="1.45" fill="#7a7ae0" stroke="#4040b8" stroke-width="0.5" fill-opacity="0.85"/>
<circle cx="131.1" cy="411.4" r="1.45" fill="#7a7ae0" stroke="#4040b8" stroke-width="0.5" fill-opacity="0.85"/>
<circle cx="131.6" cy="411.9" r="1.45" fill="#7a7ae0" stroke="#4040b8" stroke-width="0.5" fill-opacity="0.85"/>
<circle cx="133.8" cy="418.2" r="1.45" fill="#7a7ae0" stroke="#4040b8" stroke-width="0.5" fill-opacity="0.85"/>
<circle cx="135.3" cy="414" r="1.45" fill="#7a7ae0" stroke="#4040b8" stroke-width="0.5" fill-opacity="0.85"/>
<circle cx="136.3" cy="415.5" r="1.45" fill="#7a7ae0" stroke="#4040b8" stroke-width="0.5" fill-opacity="0.85"/>
<circle cx="137.7" cy="412.5" r="1.45" fill="#7a7ae0" stroke="#4040b8" stroke-width="0.5" fill-opacity="0.85"/>
<circle cx="139.4" cy="417.7" r="1.45" fill="#7a7ae0" stroke="#4040b8" stroke-width="0.5" fill-opacity="0.85"/>
<circle cx="140.5" cy="411.9" r="1.45" fill="#7a7ae0" stroke="#4040b8" stroke-width="0.5" fill-opacity="0.85"/>
<circle cx="142" cy="416.3" r="1.45" fill="#7a7ae0" stroke="#4040b8" stroke-width="0.5" fill-opacity="0.85"/>
<circle cx="142.7" cy="413.2" r="1.45" fill="#7a7ae0" stroke="#4040b8" stroke-width="0.5" fill-opacity="0.85"/>
<circle cx="144.2" cy="414" r="1.45" fill="#7a7ae0" stroke="#4040b8" stroke-width="0.5" fill-opacity="0.85"/>
<circle cx="145.2" cy="412.8" r="1.45" fill="#7a7ae0" stroke="#4040b8" stroke-width="0.5" fill-opacity="0.85"/>
<circle cx="147.3" cy="416.3" r="1.45" fill="#7a7ae0" stroke="#4040b8" stroke-width="0.5" fill-opacity="0.85"/>
<circle cx="148.7" cy="414.9" r="1.45" fill="#7a7ae0" stroke="#4040b8" stroke-width="0.5" fill-opacity="0.85"/>
<circle cx="149.2" cy="416.1" r="1.45" fill="#7a7ae0" stroke="#4040b8" stroke-width="0.5" fill-opacity="0.85"/>
<circle cx="170.6" cy="402.9" r="1.45" fill="#7a7ae0" stroke="#4040b8" stroke-width="0.5" fill-opacity="0.85"/>
<polyline points="90.9,344.2 91.5,344.9 92.2,345.6 92.8,346.3 93.5,346.9 94.1,347.5 94.8,348.1 95.4,348.7 96.1,349.3 96.7,349.8 97.4,350.3 98,350.8 98.7,351.2 99.3,351.7 100,352.1 100.6,352.5 101.3,352.9 101.9,353.3 102.6,353.7 103.2,354 103.9,354.4 104.5,354.7 105.2,355 105.8,355.3 106.5,355.6 107.1,355.8 107.7,356.1 108.4,356.3 109,356.6 109.7,356.8 110.3,357 111,357.2 111.6,357.4 112.3,357.6 112.9,357.8 113.6,357.9 114.2,358.1 114.9,358.2 115.5,358.4 116.2,358.5 116.8,358.6 117.5,358.7 118.1,358.8 118.8,358.9 119.4,359 120.1,359.1 120.7,359.2 121.4,359.3 122,359.4 122.7,359.4 123.3,359.5 123.9,359.5 124.6,359.6 125.2,359.6 125.9,359.7 126.5,359.7 127.2,359.7 127.8,359.8 128.5,359.8 129.1,359.8 129.8,359.8 130.4,359.8 131.1,359.8 131.7,359.8 132.4,359.8 133,359.8 133.7,359.8 134.3,359.8 135,359.8 135.6,359.8 136.3,359.8 136.9,359.8 137.6,359.7 138.2,359.7 138.9,359.7 139.5,359.6 140.1,359.6 140.8,359.6 141.4,359.5 142.1,359.5 142.7,359.5 143.4,359.4 144,359.4 144.7,359.3 145.3,359.3 146,359.2 146.6,359.2 147.3,359.1 147.9,359.1 148.6,359 149.2,359 149.9,358.9 150.5,358.8 151.2,358.8 151.8,358.7 152.5,358.6 153.1,358.6 153.8,358.5 154.4,358.4 155.1,358.4 155.7,358.3 156.3,358.2 157,358.2 157.6,358.1 158.3,358 158.9,357.9 159.6,357.9 160.2,357.8 160.9,357.7 161.5,357.6 162.2,357.6 162.8,357.5 163.5,357.4 164.1,357.3 164.8,357.2 165.4,357.2 166.1,357.1 166.7,357 167.4,356.9 168,356.8 168.7,356.7 169.3,356.7 170,356.6 170.6,356.5 171.3,356.4 171.9,356.3 172.5,356.2 173.2,356.1 173.8,356 174.5,356 175.1,355.9 175.8,355.8 176.4,355.7 177.1,355.6 177.7,355.5 178.4,355.4 179,355.3 179.7,355.2 180.3,355.1 181,355.1 181.2,355" fill="none" stroke="#d84848" stroke-width="1.15"/>
<polyline points="90.9,344.2 91.5,348.3 92.2,352.2 92.8,355.9 93.5,359.3 94.1,362.6 94.8,365.7 95.4,368.6 96.1,371.4 96.7,374 97.4,376.4 98,378.7 98.7,380.9 99.3,383 100,385 100.6,386.8 101.3,388.5 101.9,390.2 102.6,391.7 103.2,393.2 103.9,394.6 104.5,395.9 105.2,397.1 105.8,398.2 106.5,399.3 107.1,400.3 107.7,401.3 108.4,402.2 109,403.1 109.7,403.9 110.3,404.6 111,405.3 111.6,406 112.3,406.6 112.9,407.2 113.6,407.8 114.2,408.3 114.9,408.8 115.5,409.2 116.2,409.7 116.8,410.1 117.5,410.4 118.1,410.8 118.8,411.1 119.4,411.4 120.1,411.7 120.7,411.9 121.4,412.2 122,412.4 122.7,412.6 123.3,412.8 123.9,413 124.6,413.2 125.2,413.3 125.9,413.5 126.5,413.6 127.2,413.7 127.8,413.8 128.5,413.9 129.1,414 129.8,414.1 130.4,414.1 131.1,414.2 131.7,414.2 132.4,414.3 133,414.3 133.7,414.4 134.3,414.4 135,414.4 135.6,414.4 136.3,414.4 136.9,414.4 137.6,414.4 138.2,414.4 138.9,414.4 139.5,414.4 140.1,414.4 140.8,414.4 141.4,414.3 142.1,414.3 142.7,414.3 143.4,414.3 144,414.2 144.7,414.2 145.3,414.1 146,414.1 146.6,414.1 147.3,414 147.9,414 148.6,413.9 149.2,413.9 149.9,413.8 150.5,413.8 151.2,413.7 151.8,413.6 152.5,413.6 153.1,413.5 153.8,413.5 154.4,413.4 155.1,413.3 155.7,413.3 156.3,413.2 157,413.1 157.6,413.1 158.3,413 158.9,412.9 159.6,412.9 160.2,412.8 160.9,412.7 161.5,412.7 162.2,412.6 162.8,412.5 163.5,412.4 164.1,412.4 164.8,412.3 165.4,412.2 166.1,412.2 166.7,412.1 167.4,412 168,411.9 168.7,411.9 169.3,411.8 170,411.7 170.6,411.6 171.3,411.5 171.9,411.5 172.5,411.4 173.2,411.3 173.8,411.2 174.5,411.2 175.1,411.1 175.8,411 176.4,410.9 177.1,410.8 177.7,410.8 178.4,410.7 179,410.6 179.7,410.5 180.3,410.5 181,410.4 181.2,410.3" fill="none" stroke="#2c2ca0" stroke-width="1.15"/>
<line x1="58.5" y1="331" x2="181.2" y2="331" stroke="#222" stroke-width="1"/>
<line x1="58.5" y1="427" x2="181.2" y2="427" stroke="#444" stroke-width="1.2"/>
<line x1="58.5" y1="331" x2="58.5" y2="427" stroke="#555" stroke-width="1"/>
<line x1="181.2" y1="331" x2="181.2" y2="427" stroke="#777" stroke-width="1"/>
<line x1="58.5" y1="344.2" x2="61.1" y2="344.2" stroke="#555" stroke-width="0.8"/>
<line x1="181.2" y1="344.2" x2="178.6" y2="344.2" stroke="#555" stroke-width="0.8"/>
<text x="56.4" y="346.6" font-size="6.8" fill="#333" stroke="#333" text-anchor="end" >1.0</text>
<line x1="58.5" y1="356.7" x2="60.1" y2="356.7" stroke="#555" stroke-width="0.8"/>
<line x1="181.2" y1="356.7" x2="179.6" y2="356.7" stroke="#555" stroke-width="0.8"/>
<line x1="58.5" y1="369.2" x2="61.1" y2="369.2" stroke="#555" stroke-width="0.8"/>
<line x1="181.2" y1="369.2" x2="178.6" y2="369.2" stroke="#555" stroke-width="0.8"/>
<text x="56.4" y="371.6" font-size="6.8" fill="#333" stroke="#333" text-anchor="end" >0.8</text>
<line x1="58.5" y1="381.7" x2="60.1" y2="381.7" stroke="#555" stroke-width="0.8"/>
<line x1="181.2" y1="381.7" x2="179.6" y2="381.7" stroke="#555" stroke-width="0.8"/>
<line x1="58.5" y1="394.2" x2="61.1" y2="394.2" stroke="#555" stroke-width="0.8"/>
<line x1="181.2" y1="394.2" x2="178.6" y2="394.2" stroke="#555" stroke-width="0.8"/>
<text x="56.4" y="396.6" font-size="6.8" fill="#333" stroke="#333" text-anchor="end" >0.6</text>
<line x1="58.5" y1="406.7" x2="60.1" y2="406.7" stroke="#555" stroke-width="0.8"/>
<line x1="181.2" y1="406.7" x2="179.6" y2="406.7" stroke="#555" stroke-width="0.8"/>
<line x1="58.5" y1="419.2" x2="61.1" y2="419.2" stroke="#555" stroke-width="0.8"/>
<line x1="181.2" y1="419.2" x2="178.6" y2="419.2" stroke="#555" stroke-width="0.8"/>
<text x="56.4" y="421.6" font-size="6.8" fill="#333" stroke="#333" text-anchor="end" >0.4</text>
<line x1="74.7" y1="331" x2="74.7" y2="332.6" stroke="#555" stroke-width="0.8"/>
<line x1="74.7" y1="427" x2="74.7" y2="425.4" stroke="#555" stroke-width="0.8"/>
<line x1="90.9" y1="331" x2="90.9" y2="333.6" stroke="#555" stroke-width="0.8"/>
<line x1="90.9" y1="427" x2="90.9" y2="424.4" stroke="#555" stroke-width="0.8"/>
<line x1="107.1" y1="331" x2="107.1" y2="332.6" stroke="#555" stroke-width="0.8"/>
<line x1="107.1" y1="427" x2="107.1" y2="425.4" stroke="#555" stroke-width="0.8"/>
<line x1="123.3" y1="331" x2="123.3" y2="333.6" stroke="#555" stroke-width="0.8"/>
<line x1="123.3" y1="427" x2="123.3" y2="424.4" stroke="#555" stroke-width="0.8"/>
<line x1="139.5" y1="331" x2="139.5" y2="332.6" stroke="#555" stroke-width="0.8"/>
<line x1="139.5" y1="427" x2="139.5" y2="425.4" stroke="#555" stroke-width="0.8"/>
<line x1="155.7" y1="331" x2="155.7" y2="333.6" stroke="#555" stroke-width="0.8"/>
<line x1="155.7" y1="427" x2="155.7" y2="424.4" stroke="#555" stroke-width="0.8"/>
<line x1="171.9" y1="331" x2="171.9" y2="332.6" stroke="#555" stroke-width="0.8"/>
<line x1="171.9" y1="427" x2="171.9" y2="425.4" stroke="#555" stroke-width="0.8"/>
<line x1="223.4" y1="247.2" x2="348.6" y2="247.2" stroke="#9a9a9a" stroke-width="0.9" stroke-dasharray="1.6 1.6"/>
<line x1="256.6" y1="231.1" x2="256.6" y2="329.8" stroke="#9a9a9a" stroke-width="0.9" stroke-dasharray="1.6 1.6"/>
<circle cx="225.2" cy="243.1" r="1.45" fill="#f08a8a" stroke="#d85a5a" stroke-width="0.5" fill-opacity="0.85"/>
<circle cx="229.1" cy="245.6" r="1.45" fill="#f08a8a" stroke="#d85a5a" stroke-width="0.5" fill-opacity="0.85"/>
<circle cx="235.5" cy="247.2" r="1.45" fill="#f08a8a" stroke="#d85a5a" stroke-width="0.5" fill-opacity="0.85"/>
<circle cx="237.2" cy="248.8" r="1.45" fill="#f08a8a" stroke="#d85a5a" stroke-width="0.5" fill-opacity="0.85"/>
<circle cx="239.8" cy="245.2" r="1.45" fill="#f08a8a" stroke="#d85a5a" stroke-width="0.5" fill-opacity="0.85"/>
<circle cx="241.1" cy="246.3" r="1.45" fill="#f08a8a" stroke="#d85a5a" stroke-width="0.5" fill-opacity="0.85"/>
<circle cx="243" cy="247.4" r="1.45" fill="#f08a8a" stroke="#d85a5a" stroke-width="0.5" fill-opacity="0.85"/>
<circle cx="245.6" cy="245.1" r="1.45" fill="#f08a8a" stroke="#d85a5a" stroke-width="0.5" fill-opacity="0.85"/>
<circle cx="249.1" cy="245.7" r="1.45" fill="#f08a8a" stroke="#d85a5a" stroke-width="0.5" fill-opacity="0.85"/>
<circle cx="250.6" cy="247.4" r="1.45" fill="#f08a8a" stroke="#d85a5a" stroke-width="0.5" fill-opacity="0.85"/>
<circle cx="253.1" cy="248.1" r="1.45" fill="#f08a8a" stroke="#d85a5a" stroke-width="0.5" fill-opacity="0.85"/>
<circle cx="255.7" cy="249.2" r="1.45" fill="#f08a8a" stroke="#d85a5a" stroke-width="0.5" fill-opacity="0.85"/>
<circle cx="257.5" cy="247.3" r="1.45" fill="#f08a8a" stroke="#d85a5a" stroke-width="0.5" fill-opacity="0.85"/>
<circle cx="258.3" cy="248.4" r="1.45" fill="#f08a8a" stroke="#d85a5a" stroke-width="0.5" fill-opacity="0.85"/>
<circle cx="260.4" cy="251" r="1.45" fill="#f08a8a" stroke="#d85a5a" stroke-width="0.5" fill-opacity="0.85"/>
<circle cx="260.7" cy="248.7" r="1.45" fill="#f08a8a" stroke="#d85a5a" stroke-width="0.5" fill-opacity="0.85"/>
<circle cx="262.2" cy="251.6" r="1.45" fill="#f08a8a" stroke="#d85a5a" stroke-width="0.5" fill-opacity="0.85"/>
<circle cx="264.4" cy="250.2" r="1.45" fill="#f08a8a" stroke="#d85a5a" stroke-width="0.5" fill-opacity="0.85"/>
<circle cx="265.7" cy="253.3" r="1.45" fill="#f08a8a" stroke="#d85a5a" stroke-width="0.5" fill-opacity="0.85"/>
<circle cx="266.8" cy="251.4" r="1.45" fill="#f08a8a" stroke="#d85a5a" stroke-width="0.5" fill-opacity="0.85"/>
<circle cx="268.2" cy="251.2" r="1.45" fill="#f08a8a" stroke="#d85a5a" stroke-width="0.5" fill-opacity="0.85"/>
<circle cx="269.2" cy="251.6" r="1.45" fill="#f08a8a" stroke="#d85a5a" stroke-width="0.5" fill-opacity="0.85"/>
<circle cx="271.6" cy="253.9" r="1.45" fill="#f08a8a" stroke="#d85a5a" stroke-width="0.5" fill-opacity="0.85"/>
<circle cx="272.3" cy="254.4" r="1.45" fill="#f08a8a" stroke="#d85a5a" stroke-width="0.5" fill-opacity="0.85"/>
<circle cx="274.2" cy="252.9" r="1.45" fill="#f08a8a" stroke="#d85a5a" stroke-width="0.5" fill-opacity="0.85"/>
<circle cx="274.8" cy="254.9" r="1.45" fill="#f08a8a" stroke="#d85a5a" stroke-width="0.5" fill-opacity="0.85"/>
<circle cx="276.1" cy="253.8" r="1.45" fill="#f08a8a" stroke="#d85a5a" stroke-width="0.5" fill-opacity="0.85"/>
<circle cx="277.9" cy="255.2" r="1.45" fill="#f08a8a" stroke="#d85a5a" stroke-width="0.5" fill-opacity="0.85"/>
<circle cx="278.7" cy="258.5" r="1.45" fill="#f08a8a" stroke="#d85a5a" stroke-width="0.5" fill-opacity="0.85"/>
<circle cx="280.1" cy="255.5" r="1.45" fill="#f08a8a" stroke="#d85a5a" stroke-width="0.5" fill-opacity="0.85"/>
<circle cx="282.4" cy="258.2" r="1.45" fill="#f08a8a" stroke="#d85a5a" stroke-width="0.5" fill-opacity="0.85"/>
<circle cx="283.6" cy="255.3" r="1.45" fill="#f08a8a" stroke="#d85a5a" stroke-width="0.5" fill-opacity="0.85"/>
<circle cx="284.3" cy="253.8" r="1.45" fill="#f08a8a" stroke="#d85a5a" stroke-width="0.5" fill-opacity="0.85"/>
<circle cx="285.4" cy="256.2" r="1.45" fill="#f08a8a" stroke="#d85a5a" stroke-width="0.5" fill-opacity="0.85"/>
<circle cx="286.7" cy="256.8" r="1.45" fill="#f08a8a" stroke="#d85a5a" stroke-width="0.5" fill-opacity="0.85"/>
<circle cx="288.5" cy="255.2" r="1.45" fill="#f08a8a" stroke="#d85a5a" stroke-width="0.5" fill-opacity="0.85"/>
<circle cx="289.7" cy="256" r="1.45" fill="#f08a8a" stroke="#d85a5a" stroke-width="0.5" fill-opacity="0.85"/>
<circle cx="292" cy="254.2" r="1.45" fill="#f08a8a" stroke="#d85a5a" stroke-width="0.5" fill-opacity="0.85"/>
<circle cx="292.2" cy="255.3" r="1.45" fill="#f08a8a" stroke="#d85a5a" stroke-width="0.5" fill-opacity="0.85"/>
<circle cx="293.7" cy="258.1" r="1.45" fill="#f08a8a" stroke="#d85a5a" stroke-width="0.5" fill-opacity="0.85"/>
<circle cx="296.2" cy="256.1" r="1.45" fill="#f08a8a" stroke="#d85a5a" stroke-width="0.5" fill-opacity="0.85"/>
<circle cx="296.7" cy="258.4" r="1.45" fill="#f08a8a" stroke="#d85a5a" stroke-width="0.5" fill-opacity="0.85"/>
<circle cx="298.2" cy="259.6" r="1.45" fill="#f08a8a" stroke="#d85a5a" stroke-width="0.5" fill-opacity="0.85"/>
<circle cx="299.9" cy="252" r="1.45" fill="#f08a8a" stroke="#d85a5a" stroke-width="0.5" fill-opacity="0.85"/>
<circle cx="300.9" cy="256.4" r="1.45" fill="#f08a8a" stroke="#d85a5a" stroke-width="0.5" fill-opacity="0.85"/>
<circle cx="301.9" cy="254.9" r="1.45" fill="#f08a8a" stroke="#d85a5a" stroke-width="0.5" fill-opacity="0.85"/>
<circle cx="303.3" cy="254.8" r="1.45" fill="#f08a8a" stroke="#d85a5a" stroke-width="0.5" fill-opacity="0.85"/>
<circle cx="305.8" cy="256.4" r="1.45" fill="#f08a8a" stroke="#d85a5a" stroke-width="0.5" fill-opacity="0.85"/>
<circle cx="306.2" cy="255.6" r="1.45" fill="#f08a8a" stroke="#d85a5a" stroke-width="0.5" fill-opacity="0.85"/>
<circle cx="307.5" cy="253.6" r="1.45" fill="#f08a8a" stroke="#d85a5a" stroke-width="0.5" fill-opacity="0.85"/>
<circle cx="309.2" cy="252.4" r="1.45" fill="#f08a8a" stroke="#d85a5a" stroke-width="0.5" fill-opacity="0.85"/>
<circle cx="311.1" cy="256.2" r="1.45" fill="#f08a8a" stroke="#d85a5a" stroke-width="0.5" fill-opacity="0.85"/>
<circle cx="312.2" cy="252.4" r="1.45" fill="#f08a8a" stroke="#d85a5a" stroke-width="0.5" fill-opacity="0.85"/>
<circle cx="313.5" cy="257.2" r="1.45" fill="#f08a8a" stroke="#d85a5a" stroke-width="0.5" fill-opacity="0.85"/>
<circle cx="315.1" cy="253.1" r="1.45" fill="#f08a8a" stroke="#d85a5a" stroke-width="0.5" fill-opacity="0.85"/>
<circle cx="316.1" cy="254.7" r="1.45" fill="#f08a8a" stroke="#d85a5a" stroke-width="0.5" fill-opacity="0.85"/>
<circle cx="325.4" cy="253.8" r="1.45" fill="#f08a8a" stroke="#d85a5a" stroke-width="0.5" fill-opacity="0.85"/>
<circle cx="341.8" cy="254.6" r="1.45" fill="#f08a8a" stroke="#d85a5a" stroke-width="0.5" fill-opacity="0.85"/>
<circle cx="224.5" cy="247.2" r="1.45" fill="#7a7ae0" stroke="#4040b8" stroke-width="0.5" fill-opacity="0.85"/>
<circle cx="227.1" cy="247.2" r="1.45" fill="#7a7ae0" stroke="#4040b8" stroke-width="0.5" fill-opacity="0.85"/>
<circle cx="232.9" cy="247.7" r="1.45" fill="#7a7ae0" stroke="#4040b8" stroke-width="0.5" fill-opacity="0.85"/>
<circle cx="233.3" cy="247.8" r="1.45" fill="#7a7ae0" stroke="#4040b8" stroke-width="0.5" fill-opacity="0.85"/>
<circle cx="236.3" cy="246.4" r="1.45" fill="#7a7ae0" stroke="#4040b8" stroke-width="0.5" fill-opacity="0.85"/>
<circle cx="236.9" cy="246.4" r="1.45" fill="#7a7ae0" stroke="#4040b8" stroke-width="0.5" fill-opacity="0.85"/>
<circle cx="238.4" cy="247.4" r="1.45" fill="#7a7ae0" stroke="#4040b8" stroke-width="0.5" fill-opacity="0.85"/>
<circle cx="239.9" cy="249.9" r="1.45" fill="#7a7ae0" stroke="#4040b8" stroke-width="0.5" fill-opacity="0.85"/>
<circle cx="242.1" cy="247.6" r="1.45" fill="#7a7ae0" stroke="#4040b8" stroke-width="0.5" fill-opacity="0.85"/>
<circle cx="243.2" cy="246" r="1.45" fill="#7a7ae0" stroke="#4040b8" stroke-width="0.5" fill-opacity="0.85"/>
<circle cx="244.4" cy="246.8" r="1.45" fill="#7a7ae0" stroke="#4040b8" stroke-width="0.5" fill-opacity="0.85"/>
<circle cx="247.1" cy="246.6" r="1.45" fill="#7a7ae0" stroke="#4040b8" stroke-width="0.5" fill-opacity="0.85"/>
<circle cx="248" cy="246.8" r="1.45" fill="#7a7ae0" stroke="#4040b8" stroke-width="0.5" fill-opacity="0.85"/>
<circle cx="250.4" cy="245.1" r="1.45" fill="#7a7ae0" stroke="#4040b8" stroke-width="0.5" fill-opacity="0.85"/>
<circle cx="251.1" cy="246.8" r="1.45" fill="#7a7ae0" stroke="#4040b8" stroke-width="0.5" fill-opacity="0.85"/>
<circle cx="252.1" cy="246.7" r="1.45" fill="#7a7ae0" stroke="#4040b8" stroke-width="0.5" fill-opacity="0.85"/>
<circle cx="254" cy="246.6" r="1.45" fill="#7a7ae0" stroke="#4040b8" stroke-width="0.5" fill-opacity="0.85"/>
<circle cx="255.4" cy="246.8" r="1.45" fill="#7a7ae0" stroke="#4040b8" stroke-width="0.5" fill-opacity="0.85"/>
<circle cx="257.3" cy="249.5" r="1.45" fill="#7a7ae0" stroke="#4040b8" stroke-width="0.5" fill-opacity="0.85"/>
<circle cx="258.3" cy="256.8" r="1.45" fill="#7a7ae0" stroke="#4040b8" stroke-width="0.5" fill-opacity="0.85"/>
<circle cx="259.5" cy="262.1" r="1.45" fill="#7a7ae0" stroke="#4040b8" stroke-width="0.5" fill-opacity="0.85"/>
<circle cx="260.6" cy="265.9" r="1.45" fill="#7a7ae0" stroke="#4040b8" stroke-width="0.5" fill-opacity="0.85"/>
<circle cx="261.5" cy="269.6" r="1.45" fill="#7a7ae0" stroke="#4040b8" stroke-width="0.5" fill-opacity="0.85"/>
<circle cx="262.7" cy="271.2" r="1.45" fill="#7a7ae0" stroke="#4040b8" stroke-width="0.5" fill-opacity="0.85"/>
<circle cx="264.4" cy="280.5" r="1.45" fill="#7a7ae0" stroke="#4040b8" stroke-width="0.5" fill-opacity="0.85"/>
<circle cx="265.2" cy="283.1" r="1.45" fill="#7a7ae0" stroke="#4040b8" stroke-width="0.5" fill-opacity="0.85"/>
<circle cx="266.5" cy="285.2" r="1.45" fill="#7a7ae0" stroke="#4040b8" stroke-width="0.5" fill-opacity="0.85"/>
<circle cx="267.9" cy="287.7" r="1.45" fill="#7a7ae0" stroke="#4040b8" stroke-width="0.5" fill-opacity="0.85"/>
<circle cx="269.7" cy="291.6" r="1.45" fill="#7a7ae0" stroke="#4040b8" stroke-width="0.5" fill-opacity="0.85"/>
<circle cx="269.8" cy="294.5" r="1.45" fill="#7a7ae0" stroke="#4040b8" stroke-width="0.5" fill-opacity="0.85"/>
<circle cx="271" cy="295.9" r="1.45" fill="#7a7ae0" stroke="#4040b8" stroke-width="0.5" fill-opacity="0.85"/>
<circle cx="272.7" cy="300.5" r="1.45" fill="#7a7ae0" stroke="#4040b8" stroke-width="0.5" fill-opacity="0.85"/>
<circle cx="274.1" cy="299.6" r="1.45" fill="#7a7ae0" stroke="#4040b8" stroke-width="0.5" fill-opacity="0.85"/>
<circle cx="275.7" cy="302.9" r="1.45" fill="#7a7ae0" stroke="#4040b8" stroke-width="0.5" fill-opacity="0.85"/>
<circle cx="276.7" cy="302.7" r="1.45" fill="#7a7ae0" stroke="#4040b8" stroke-width="0.5" fill-opacity="0.85"/>
<circle cx="277.2" cy="307" r="1.45" fill="#7a7ae0" stroke="#4040b8" stroke-width="0.5" fill-opacity="0.85"/>
<circle cx="278.3" cy="305.5" r="1.45" fill="#7a7ae0" stroke="#4040b8" stroke-width="0.5" fill-opacity="0.85"/>
<circle cx="280.2" cy="307.1" r="1.45" fill="#7a7ae0" stroke="#4040b8" stroke-width="0.5" fill-opacity="0.85"/>
<circle cx="281.7" cy="309.8" r="1.45" fill="#7a7ae0" stroke="#4040b8" stroke-width="0.5" fill-opacity="0.85"/>
<circle cx="282.6" cy="311.8" r="1.45" fill="#7a7ae0" stroke="#4040b8" stroke-width="0.5" fill-opacity="0.85"/>
<circle cx="283.5" cy="311.3" r="1.45" fill="#7a7ae0" stroke="#4040b8" stroke-width="0.5" fill-opacity="0.85"/>
<circle cx="285.1" cy="312.2" r="1.45" fill="#7a7ae0" stroke="#4040b8" stroke-width="0.5" fill-opacity="0.85"/>
<circle cx="285.6" cy="311.3" r="1.45" fill="#7a7ae0" stroke="#4040b8" stroke-width="0.5" fill-opacity="0.85"/>
<circle cx="286.9" cy="314" r="1.45" fill="#7a7ae0" stroke="#4040b8" stroke-width="0.5" fill-opacity="0.85"/>
<circle cx="287.9" cy="313.9" r="1.45" fill="#7a7ae0" stroke="#4040b8" stroke-width="0.5" fill-opacity="0.85"/>
<circle cx="289.7" cy="313.4" r="1.45" fill="#7a7ae0" stroke="#4040b8" stroke-width="0.5" fill-opacity="0.85"/>
<circle cx="290.2" cy="313.9" r="1.45" fill="#7a7ae0" stroke="#4040b8" stroke-width="0.5" fill-opacity="0.85"/>
<circle cx="292" cy="315.2" r="1.45" fill="#7a7ae0" stroke="#4040b8" stroke-width="0.5" fill-opacity="0.85"/>
<circle cx="293" cy="315.9" r="1.45" fill="#7a7ae0" stroke="#4040b8" stroke-width="0.5" fill-opacity="0.85"/>
<circle cx="293.7" cy="315.1" r="1.45" fill="#7a7ae0" stroke="#4040b8" stroke-width="0.5" fill-opacity="0.85"/>
<circle cx="295.3" cy="319.3" r="1.45" fill="#7a7ae0" stroke="#4040b8" stroke-width="0.5" fill-opacity="0.85"/>
<circle cx="296.9" cy="316.7" r="1.45" fill="#7a7ae0" stroke="#4040b8" stroke-width="0.5" fill-opacity="0.85"/>
<circle cx="298.3" cy="318.4" r="1.45" fill="#7a7ae0" stroke="#4040b8" stroke-width="0.5" fill-opacity="0.85"/>
<circle cx="298.8" cy="317.6" r="1.45" fill="#7a7ae0" stroke="#4040b8" stroke-width="0.5" fill-opacity="0.85"/>
<circle cx="300.8" cy="318.4" r="1.45" fill="#7a7ae0" stroke="#4040b8" stroke-width="0.5" fill-opacity="0.85"/>
<circle cx="300.9" cy="319" r="1.45" fill="#7a7ae0" stroke="#4040b8" stroke-width="0.5" fill-opacity="0.85"/>
<circle cx="302.7" cy="318.9" r="1.45" fill="#7a7ae0" stroke="#4040b8" stroke-width="0.5" fill-opacity="0.85"/>
<circle cx="303.6" cy="319.5" r="1.45" fill="#7a7ae0" stroke="#4040b8" stroke-width="0.5" fill-opacity="0.85"/>
<circle cx="305.3" cy="318.2" r="1.45" fill="#7a7ae0" stroke="#4040b8" stroke-width="0.5" fill-opacity="0.85"/>
<circle cx="305.7" cy="319.2" r="1.45" fill="#7a7ae0" stroke="#4040b8" stroke-width="0.5" fill-opacity="0.85"/>
<circle cx="307.3" cy="320.3" r="1.45" fill="#7a7ae0" stroke="#4040b8" stroke-width="0.5" fill-opacity="0.85"/>
<circle cx="308.3" cy="318.3" r="1.45" fill="#7a7ae0" stroke="#4040b8" stroke-width="0.5" fill-opacity="0.85"/>
<circle cx="310.2" cy="319.3" r="1.45" fill="#7a7ae0" stroke="#4040b8" stroke-width="0.5" fill-opacity="0.85"/>
<circle cx="310.7" cy="320.4" r="1.45" fill="#7a7ae0" stroke="#4040b8" stroke-width="0.5" fill-opacity="0.85"/>
<circle cx="312.8" cy="320" r="1.45" fill="#7a7ae0" stroke="#4040b8" stroke-width="0.5" fill-opacity="0.85"/>
<circle cx="313.1" cy="317.6" r="1.45" fill="#7a7ae0" stroke="#4040b8" stroke-width="0.5" fill-opacity="0.85"/>
<circle cx="314.3" cy="319.3" r="1.45" fill="#7a7ae0" stroke="#4040b8" stroke-width="0.5" fill-opacity="0.85"/>
<circle cx="316.4" cy="320.2" r="1.45" fill="#7a7ae0" stroke="#4040b8" stroke-width="0.5" fill-opacity="0.85"/>
<circle cx="317" cy="319.1" r="1.45" fill="#7a7ae0" stroke="#4040b8" stroke-width="0.5" fill-opacity="0.85"/>
<circle cx="318.1" cy="318.7" r="1.45" fill="#7a7ae0" stroke="#4040b8" stroke-width="0.5" fill-opacity="0.85"/>
<circle cx="341.8" cy="315.3" r="1.45" fill="#7a7ae0" stroke="#4040b8" stroke-width="0.5" fill-opacity="0.85"/>
<polyline points="256.6,247.2 257.3,247.9 257.9,248.5 258.6,249 259.2,249.5 259.9,250 260.5,250.4 261.2,250.8 261.8,251.2 262.5,251.5 263.2,251.8 263.8,252.1 264.5,252.4 265.1,252.6 265.8,252.8 266.4,253.1 267.1,253.2 267.7,253.4 268.4,253.6 269,253.7 269.7,253.9 270.4,254 271,254.1 271.7,254.2 272.3,254.3 273,254.4 273.6,254.5 274.3,254.5 274.9,254.6 275.6,254.7 276.2,254.7 276.9,254.8 277.6,254.8 278.2,254.9 278.9,254.9 279.5,255 280.2,255 280.8,255 281.5,255.1 282.1,255.1 282.8,255.1 283.5,255.1 284.1,255.2 284.8,255.2 285.4,255.2 286.1,255.2 286.7,255.2 287.4,255.2 288,255.2 288.7,255.3 289.4,255.3 290,255.3 290.7,255.3 291.3,255.3 292,255.3 292.6,255.3 293.3,255.3 293.9,255.3 294.6,255.3 295.2,255.3 295.9,255.3 296.6,255.3 297.2,255.4 297.9,255.4 298.5,255.4 299.2,255.4 299.8,255.4 300.5,255.4 301.1,255.4 301.8,255.4 302.5,255.4 303.1,255.4 303.8,255.4 304.4,255.4 305.1,255.4 305.7,255.4 306.4,255.4 307,255.4 307.7,255.4 308.3,255.4 309,255.4 309.7,255.4 310.3,255.4 311,255.4 311.6,255.4 312.3,255.4 312.9,255.4 313.6,255.4 314.2,255.4 314.9,255.4 315.6,255.4 316.2,255.4 316.9,255.4 317.5,255.4 318.2,255.4 318.8,255.4 319.5,255.4 320.1,255.4 320.8,255.4 321.4,255.4 322.1,255.4 322.8,255.4 323.4,255.4 324.1,255.4 324.7,255.4 325.4,255.4 326,255.4 326.7,255.4 327.3,255.4 328,255.4 328.7,255.4 329.3,255.4 330,255.4 330.6,255.4 331.3,255.4 331.9,255.4 332.6,255.4 333.2,255.4 333.9,255.4 334.5,255.4 335.2,255.4 335.9,255.4 336.5,255.4 337.2,255.4 337.8,255.4 338.5,255.4 339.1,255.4 339.8,255.4 340.4,255.4 341.1,255.4 341.8,255.4 342.4,255.4 343.1,255.4 343.7,255.4 344.4,255.4 345,255.4 345.7,255.4 346.3,255.4 347,255.4 347.6,255.4 348.3,255.4 348.6,255.4" fill="none" stroke="#d84848" stroke-width="1.15"/>
<polyline points="256.6,247.2 257.3,250.6 257.9,253.9 258.6,257 259.2,260 259.9,262.8 260.5,265.5 261.2,268.1 261.8,270.6 262.5,272.9 263.2,275.2 263.8,277.3 264.5,279.4 265.1,281.3 265.8,283.2 266.4,285 267.1,286.7 267.7,288.3 268.4,289.8 269,291.3 269.7,292.7 270.4,294.1 271,295.4 271.7,296.6 272.3,297.8 273,298.9 273.6,299.9 274.3,300.9 274.9,301.9 275.6,302.8 276.2,303.7 276.9,304.5 277.6,305.3 278.2,306.1 278.9,306.8 279.5,307.5 280.2,308.2 280.8,308.8 281.5,309.4 282.1,309.9 282.8,310.5 283.5,311 284.1,311.5 284.8,312 285.4,312.4 286.1,312.8 286.7,313.2 287.4,313.6 288,313.9 288.7,314.3 289.4,314.6 290,314.9 290.7,315.2 291.3,315.5 292,315.8 292.6,316 293.3,316.2 293.9,316.5 294.6,316.7 295.2,316.9 295.9,317.1 296.6,317.2 297.2,317.4 297.9,317.6 298.5,317.7 299.2,317.8 299.8,318 300.5,318.1 301.1,318.2 301.8,318.3 302.5,318.4 303.1,318.5 303.8,318.6 304.4,318.7 305.1,318.8 305.7,318.8 306.4,318.9 307,319 307.7,319 308.3,319.1 309,319.1 309.7,319.2 310.3,319.2 311,319.2 311.6,319.3 312.3,319.3 312.9,319.3 313.6,319.3 314.2,319.3 314.9,319.4 315.6,319.4 316.2,319.4 316.9,319.4 317.5,319.4 318.2,319.4 318.8,319.4 319.5,319.4 320.1,319.4 320.8,319.4 321.4,319.4 322.1,319.4 322.8,319.3 323.4,319.3 324.1,319.3 324.7,319.3 325.4,319.3 326,319.3 326.7,319.2 327.3,319.2 328,319.2 328.7,319.2 329.3,319.1 330,319.1 330.6,319.1 331.3,319.1 331.9,319 332.6,319 333.2,319 333.9,318.9 334.5,318.9 335.2,318.9 335.9,318.8 336.5,318.8 337.2,318.8 337.8,318.7 338.5,318.7 339.1,318.6 339.8,318.6 340.4,318.6 341.1,318.5 341.8,318.5 342.4,318.5 343.1,318.4 343.7,318.4 344.4,318.3 345,318.3 345.7,318.2 346.3,318.2 347,318.2 347.6,318.1 348.3,318.1 348.6,318.1" fill="none" stroke="#2c2ca0" stroke-width="1.15"/>
<line x1="223.4" y1="231.1" x2="348.6" y2="231.1" stroke="#555" stroke-width="1"/>
<line x1="223.4" y1="329.8" x2="348.6" y2="329.8" stroke="#444" stroke-width="1.2"/>
<line x1="223.4" y1="231.1" x2="223.4" y2="329.8" stroke="#555" stroke-width="1"/>
<line x1="348.6" y1="231.1" x2="348.6" y2="329.8" stroke="#777" stroke-width="1"/>
<line x1="223.4" y1="247.2" x2="226" y2="247.2" stroke="#555" stroke-width="0.8"/>
<line x1="348.6" y1="247.2" x2="346" y2="247.2" stroke="#555" stroke-width="0.8"/>
<text x="221.4" y="249.6" font-size="6.8" fill="#333" stroke="#333" text-anchor="end" >1.0</text>
<line x1="223.4" y1="263.6" x2="225" y2="263.6" stroke="#555" stroke-width="0.8"/>
<line x1="348.6" y1="263.6" x2="347" y2="263.6" stroke="#555" stroke-width="0.8"/>
<line x1="223.4" y1="280" x2="226" y2="280" stroke="#555" stroke-width="0.8"/>
<line x1="348.6" y1="280" x2="346" y2="280" stroke="#555" stroke-width="0.8"/>
<text x="221.4" y="282.4" font-size="6.8" fill="#333" stroke="#333" text-anchor="end" >0.8</text>
<line x1="223.4" y1="296.4" x2="225" y2="296.4" stroke="#555" stroke-width="0.8"/>
<line x1="348.6" y1="296.4" x2="347" y2="296.4" stroke="#555" stroke-width="0.8"/>
<line x1="223.4" y1="312.8" x2="226" y2="312.8" stroke="#555" stroke-width="0.8"/>
<line x1="348.6" y1="312.8" x2="346" y2="312.8" stroke="#555" stroke-width="0.8"/>
<text x="221.4" y="315.2" font-size="6.8" fill="#333" stroke="#333" text-anchor="end" >0.6</text>
<line x1="240.2" y1="231.1" x2="240.2" y2="232.7" stroke="#555" stroke-width="0.8"/>
<line x1="240.2" y1="329.8" x2="240.2" y2="328.2" stroke="#555" stroke-width="0.8"/>
<line x1="256.6" y1="231.1" x2="256.6" y2="233.7" stroke="#555" stroke-width="0.8"/>
<line x1="256.6" y1="329.8" x2="256.6" y2="327.2" stroke="#555" stroke-width="0.8"/>
<line x1="273" y1="231.1" x2="273" y2="232.7" stroke="#555" stroke-width="0.8"/>
<line x1="273" y1="329.8" x2="273" y2="328.2" stroke="#555" stroke-width="0.8"/>
<line x1="289.4" y1="231.1" x2="289.4" y2="233.7" stroke="#555" stroke-width="0.8"/>
<line x1="289.4" y1="329.8" x2="289.4" y2="327.2" stroke="#555" stroke-width="0.8"/>
<line x1="305.7" y1="231.1" x2="305.7" y2="232.7" stroke="#555" stroke-width="0.8"/>
<line x1="305.7" y1="329.8" x2="305.7" y2="328.2" stroke="#555" stroke-width="0.8"/>
<line x1="322.1" y1="231.1" x2="322.1" y2="233.7" stroke="#555" stroke-width="0.8"/>
<line x1="322.1" y1="329.8" x2="322.1" y2="327.2" stroke="#555" stroke-width="0.8"/>
<line x1="338.5" y1="231.1" x2="338.5" y2="232.7" stroke="#555" stroke-width="0.8"/>
<line x1="338.5" y1="329.8" x2="338.5" y2="328.2" stroke="#555" stroke-width="0.8"/>
<line x1="223.4" y1="341.2" x2="348.6" y2="341.2" stroke="#9a9a9a" stroke-width="0.9" stroke-dasharray="1.6 1.6"/>
<line x1="256.6" y1="329.8" x2="256.6" y2="427.3" stroke="#9a9a9a" stroke-width="0.9" stroke-dasharray="1.6 1.6"/>
<circle cx="225.7" cy="339.2" r="1.45" fill="#f08a8a" stroke="#d85a5a" stroke-width="0.5" fill-opacity="0.85"/>
<circle cx="227.7" cy="340" r="1.45" fill="#f08a8a" stroke="#d85a5a" stroke-width="0.5" fill-opacity="0.85"/>
<circle cx="229.9" cy="339.1" r="1.45" fill="#f08a8a" stroke="#d85a5a" stroke-width="0.5" fill-opacity="0.85"/>
<circle cx="232.2" cy="339.9" r="1.45" fill="#f08a8a" stroke="#d85a5a" stroke-width="0.5" fill-opacity="0.85"/>
<circle cx="234.9" cy="341.7" r="1.45" fill="#f08a8a" stroke="#d85a5a" stroke-width="0.5" fill-opacity="0.85"/>
<circle cx="239.9" cy="338.2" r="1.45" fill="#f08a8a" stroke="#d85a5a" stroke-width="0.5" fill-opacity="0.85"/>
<circle cx="242.2" cy="337.1" r="1.45" fill="#f08a8a" stroke="#d85a5a" stroke-width="0.5" fill-opacity="0.85"/>
<circle cx="243.9" cy="339.8" r="1.45" fill="#f08a8a" stroke="#d85a5a" stroke-width="0.5" fill-opacity="0.85"/>
<circle cx="246.2" cy="338" r="1.45" fill="#f08a8a" stroke="#d85a5a" stroke-width="0.5" fill-opacity="0.85"/>
<circle cx="248.5" cy="340.5" r="1.45" fill="#f08a8a" stroke="#d85a5a" stroke-width="0.5" fill-opacity="0.85"/>
<circle cx="253" cy="340.6" r="1.45" fill="#f08a8a" stroke="#d85a5a" stroke-width="0.5" fill-opacity="0.85"/>
<circle cx="254.8" cy="339" r="1.45" fill="#f08a8a" stroke="#d85a5a" stroke-width="0.5" fill-opacity="0.85"/>
<circle cx="256.8" cy="340.4" r="1.45" fill="#f08a8a" stroke="#d85a5a" stroke-width="0.5" fill-opacity="0.85"/>
<circle cx="258.5" cy="345.5" r="1.45" fill="#f08a8a" stroke="#d85a5a" stroke-width="0.5" fill-opacity="0.85"/>
<circle cx="260.6" cy="346.7" r="1.45" fill="#f08a8a" stroke="#d85a5a" stroke-width="0.5" fill-opacity="0.85"/>
<circle cx="261" cy="347.4" r="1.45" fill="#f08a8a" stroke="#d85a5a" stroke-width="0.5" fill-opacity="0.85"/>
<circle cx="262.6" cy="351.7" r="1.45" fill="#f08a8a" stroke="#d85a5a" stroke-width="0.5" fill-opacity="0.85"/>
<circle cx="264" cy="358.2" r="1.45" fill="#f08a8a" stroke="#d85a5a" stroke-width="0.5" fill-opacity="0.85"/>
<circle cx="264.9" cy="358.1" r="1.45" fill="#f08a8a" stroke="#d85a5a" stroke-width="0.5" fill-opacity="0.85"/>
<circle cx="267.4" cy="359.2" r="1.45" fill="#f08a8a" stroke="#d85a5a" stroke-width="0.5" fill-opacity="0.85"/>
<circle cx="267.8" cy="362.3" r="1.45" fill="#f08a8a" stroke="#d85a5a" stroke-width="0.5" fill-opacity="0.85"/>
<circle cx="269" cy="358.3" r="1.45" fill="#f08a8a" stroke="#d85a5a" stroke-width="0.5" fill-opacity="0.85"/>
<circle cx="270.9" cy="361.6" r="1.45" fill="#f08a8a" stroke="#d85a5a" stroke-width="0.5" fill-opacity="0.85"/>
<circle cx="271.7" cy="366.1" r="1.45" fill="#f08a8a" stroke="#d85a5a" stroke-width="0.5" fill-opacity="0.85"/>
<circle cx="273.1" cy="360.8" r="1.45" fill="#f08a8a" stroke="#d85a5a" stroke-width="0.5" fill-opacity="0.85"/>
<circle cx="274.8" cy="364" r="1.45" fill="#f08a8a" stroke="#d85a5a" stroke-width="0.5" fill-opacity="0.85"/>
<circle cx="276.8" cy="365.4" r="1.45" fill="#f08a8a" stroke="#d85a5a" stroke-width="0.5" fill-opacity="0.85"/>
<circle cx="277.5" cy="367.9" r="1.45" fill="#f08a8a" stroke="#d85a5a" stroke-width="0.5" fill-opacity="0.85"/>
<circle cx="279.8" cy="369" r="1.45" fill="#f08a8a" stroke="#d85a5a" stroke-width="0.5" fill-opacity="0.85"/>
<circle cx="280.9" cy="369.3" r="1.45" fill="#f08a8a" stroke="#d85a5a" stroke-width="0.5" fill-opacity="0.85"/>
<circle cx="281.7" cy="368.7" r="1.45" fill="#f08a8a" stroke="#d85a5a" stroke-width="0.5" fill-opacity="0.85"/>
<circle cx="283.7" cy="369.2" r="1.45" fill="#f08a8a" stroke="#d85a5a" stroke-width="0.5" fill-opacity="0.85"/>
<circle cx="285.2" cy="372.5" r="1.45" fill="#f08a8a" stroke="#d85a5a" stroke-width="0.5" fill-opacity="0.85"/>
<circle cx="285.4" cy="372.9" r="1.45" fill="#f08a8a" stroke="#d85a5a" stroke-width="0.5" fill-opacity="0.85"/>
<circle cx="287.1" cy="374.4" r="1.45" fill="#f08a8a" stroke="#d85a5a" stroke-width="0.5" fill-opacity="0.85"/>
<circle cx="289.4" cy="370" r="1.45" fill="#f08a8a" stroke="#d85a5a" stroke-width="0.5" fill-opacity="0.85"/>
<circle cx="290" cy="370.8" r="1.45" fill="#f08a8a" stroke="#d85a5a" stroke-width="0.5" fill-opacity="0.85"/>
<circle cx="291.5" cy="369.2" r="1.45" fill="#f08a8a" stroke="#d85a5a" stroke-width="0.5" fill-opacity="0.85"/>
<circle cx="293.5" cy="370" r="1.45" fill="#f08a8a" stroke="#d85a5a" stroke-width="0.5" fill-opacity="0.85"/>
<circle cx="294.6" cy="368.6" r="1.45" fill="#f08a8a" stroke="#d85a5a" stroke-width="0.5" fill-opacity="0.85"/>
<circle cx="296.1" cy="371.2" r="1.45" fill="#f08a8a" stroke="#d85a5a" stroke-width="0.5" fill-opacity="0.85"/>
<circle cx="296.8" cy="373.9" r="1.45" fill="#f08a8a" stroke="#d85a5a" stroke-width="0.5" fill-opacity="0.85"/>
<circle cx="298.1" cy="373.7" r="1.45" fill="#f08a8a" stroke="#d85a5a" stroke-width="0.5" fill-opacity="0.85"/>
<circle cx="299.2" cy="369.5" r="1.45" fill="#f08a8a" stroke="#d85a5a" stroke-width="0.5" fill-opacity="0.85"/>
<circle cx="300.7" cy="371.9" r="1.45" fill="#f08a8a" stroke="#d85a5a" stroke-width="0.5" fill-opacity="0.85"/>
<circle cx="301.9" cy="373.3" r="1.45" fill="#f08a8a" stroke="#d85a5a" stroke-width="0.5" fill-opacity="0.85"/>
<circle cx="303.2" cy="373.5" r="1.45" fill="#f08a8a" stroke="#d85a5a" stroke-width="0.5" fill-opacity="0.85"/>
<circle cx="305.9" cy="372.6" r="1.45" fill="#f08a8a" stroke="#d85a5a" stroke-width="0.5" fill-opacity="0.85"/>
<circle cx="307.1" cy="370.8" r="1.45" fill="#f08a8a" stroke="#d85a5a" stroke-width="0.5" fill-opacity="0.85"/>
<circle cx="307.4" cy="372.3" r="1.45" fill="#f08a8a" stroke="#d85a5a" stroke-width="0.5" fill-opacity="0.85"/>
<circle cx="308.8" cy="374.9" r="1.45" fill="#f08a8a" stroke="#d85a5a" stroke-width="0.5" fill-opacity="0.85"/>
<circle cx="310.6" cy="372.2" r="1.45" fill="#f08a8a" stroke="#d85a5a" stroke-width="0.5" fill-opacity="0.85"/>
<circle cx="311.7" cy="374.3" r="1.45" fill="#f08a8a" stroke="#d85a5a" stroke-width="0.5" fill-opacity="0.85"/>
<circle cx="313.7" cy="371.1" r="1.45" fill="#f08a8a" stroke="#d85a5a" stroke-width="0.5" fill-opacity="0.85"/>
<circle cx="315.1" cy="370.8" r="1.45" fill="#f08a8a" stroke="#d85a5a" stroke-width="0.5" fill-opacity="0.85"/>
<circle cx="315.7" cy="374.4" r="1.45" fill="#f08a8a" stroke="#d85a5a" stroke-width="0.5" fill-opacity="0.85"/>
<circle cx="341.8" cy="369.9" r="1.45" fill="#f08a8a" stroke="#d85a5a" stroke-width="0.5" fill-opacity="0.85"/>
<circle cx="225.6" cy="339.8" r="1.45" fill="#7a7ae0" stroke="#4040b8" stroke-width="0.5" fill-opacity="0.85"/>
<circle cx="226.7" cy="338.4" r="1.45" fill="#7a7ae0" stroke="#4040b8" stroke-width="0.5" fill-opacity="0.85"/>
<circle cx="229.5" cy="339.3" r="1.45" fill="#7a7ae0" stroke="#4040b8" stroke-width="0.5" fill-opacity="0.85"/>
<circle cx="230.5" cy="338.9" r="1.45" fill="#7a7ae0" stroke="#4040b8" stroke-width="0.5" fill-opacity="0.85"/>
<circle cx="232.4" cy="338.6" r="1.45" fill="#7a7ae0" stroke="#4040b8" stroke-width="0.5" fill-opacity="0.85"/>
<circle cx="234.8" cy="340.2" r="1.45" fill="#7a7ae0" stroke="#4040b8" stroke-width="0.5" fill-opacity="0.85"/>
<circle cx="236.9" cy="338.5" r="1.45" fill="#7a7ae0" stroke="#4040b8" stroke-width="0.5" fill-opacity="0.85"/>
<circle cx="238.7" cy="339.5" r="1.45" fill="#7a7ae0" stroke="#4040b8" stroke-width="0.5" fill-opacity="0.85"/>
<circle cx="241.9" cy="341" r="1.45" fill="#7a7ae0" stroke="#4040b8" stroke-width="0.5" fill-opacity="0.85"/>
<circle cx="242.5" cy="341.6" r="1.45" fill="#7a7ae0" stroke="#4040b8" stroke-width="0.5" fill-opacity="0.85"/>
<circle cx="245.3" cy="338.8" r="1.45" fill="#7a7ae0" stroke="#4040b8" stroke-width="0.5" fill-opacity="0.85"/>
<circle cx="248.2" cy="341" r="1.45" fill="#7a7ae0" stroke="#4040b8" stroke-width="0.5" fill-opacity="0.85"/>
<circle cx="248.5" cy="339.6" r="1.45" fill="#7a7ae0" stroke="#4040b8" stroke-width="0.5" fill-opacity="0.85"/>
<circle cx="250.8" cy="339.1" r="1.45" fill="#7a7ae0" stroke="#4040b8" stroke-width="0.5" fill-opacity="0.85"/>
<circle cx="254.5" cy="341.2" r="1.45" fill="#7a7ae0" stroke="#4040b8" stroke-width="0.5" fill-opacity="0.85"/>
<circle cx="255.3" cy="340.5" r="1.45" fill="#7a7ae0" stroke="#4040b8" stroke-width="0.5" fill-opacity="0.85"/>
<circle cx="257.7" cy="348.9" r="1.45" fill="#7a7ae0" stroke="#4040b8" stroke-width="0.5" fill-opacity="0.85"/>
<circle cx="258.8" cy="353.8" r="1.45" fill="#7a7ae0" stroke="#4040b8" stroke-width="0.5" fill-opacity="0.85"/>
<circle cx="260.3" cy="359.9" r="1.45" fill="#7a7ae0" stroke="#4040b8" stroke-width="0.5" fill-opacity="0.85"/>
<circle cx="261.1" cy="364" r="1.45" fill="#7a7ae0" stroke="#4040b8" stroke-width="0.5" fill-opacity="0.85"/>
<circle cx="261.8" cy="368.9" r="1.45" fill="#7a7ae0" stroke="#4040b8" stroke-width="0.5" fill-opacity="0.85"/>
<circle cx="263.1" cy="372.5" r="1.45" fill="#7a7ae0" stroke="#4040b8" stroke-width="0.5" fill-opacity="0.85"/>
<circle cx="264.4" cy="379.4" r="1.45" fill="#7a7ae0" stroke="#4040b8" stroke-width="0.5" fill-opacity="0.85"/>
<circle cx="265.6" cy="382.6" r="1.45" fill="#7a7ae0" stroke="#4040b8" stroke-width="0.5" fill-opacity="0.85"/>
<circle cx="266.6" cy="385.3" r="1.45" fill="#7a7ae0" stroke="#4040b8" stroke-width="0.5" fill-opacity="0.85"/>
<circle cx="268" cy="386.1" r="1.45" fill="#7a7ae0" stroke="#4040b8" stroke-width="0.5" fill-opacity="0.85"/>
<circle cx="269.4" cy="390.5" r="1.45" fill="#7a7ae0" stroke="#4040b8" stroke-width="0.5" fill-opacity="0.85"/>
<circle cx="271" cy="391.9" r="1.45" fill="#7a7ae0" stroke="#4040b8" stroke-width="0.5" fill-opacity="0.85"/>
<circle cx="271.6" cy="394.3" r="1.45" fill="#7a7ae0" stroke="#4040b8" stroke-width="0.5" fill-opacity="0.85"/>
<circle cx="273.5" cy="397.6" r="1.45" fill="#7a7ae0" stroke="#4040b8" stroke-width="0.5" fill-opacity="0.85"/>
<circle cx="274.8" cy="399.7" r="1.45" fill="#7a7ae0" stroke="#4040b8" stroke-width="0.5" fill-opacity="0.85"/>
<circle cx="276.1" cy="401.6" r="1.45" fill="#7a7ae0" stroke="#4040b8" stroke-width="0.5" fill-opacity="0.85"/>
<circle cx="277" cy="403.4" r="1.45" fill="#7a7ae0" stroke="#4040b8" stroke-width="0.5" fill-opacity="0.85"/>
<circle cx="278.9" cy="403.9" r="1.45" fill="#7a7ae0" stroke="#4040b8" stroke-width="0.5" fill-opacity="0.85"/>
<circle cx="279.4" cy="406.7" r="1.45" fill="#7a7ae0" stroke="#4040b8" stroke-width="0.5" fill-opacity="0.85"/>
<circle cx="280.8" cy="407.2" r="1.45" fill="#7a7ae0" stroke="#4040b8" stroke-width="0.5" fill-opacity="0.85"/>
<circle cx="282.6" cy="406.6" r="1.45" fill="#7a7ae0" stroke="#4040b8" stroke-width="0.5" fill-opacity="0.85"/>
<circle cx="283" cy="408.3" r="1.45" fill="#7a7ae0" stroke="#4040b8" stroke-width="0.5" fill-opacity="0.85"/>
<circle cx="284.9" cy="409.4" r="1.45" fill="#7a7ae0" stroke="#4040b8" stroke-width="0.5" fill-opacity="0.85"/>
<circle cx="286.3" cy="410" r="1.45" fill="#7a7ae0" stroke="#4040b8" stroke-width="0.5" fill-opacity="0.85"/>
<circle cx="287" cy="409.9" r="1.45" fill="#7a7ae0" stroke="#4040b8" stroke-width="0.5" fill-opacity="0.85"/>
<circle cx="288.8" cy="412.6" r="1.45" fill="#7a7ae0" stroke="#4040b8" stroke-width="0.5" fill-opacity="0.85"/>
<circle cx="289.5" cy="411.4" r="1.45" fill="#7a7ae0" stroke="#4040b8" stroke-width="0.5" fill-opacity="0.85"/>
<circle cx="290.9" cy="411.8" r="1.45" fill="#7a7ae0" stroke="#4040b8" stroke-width="0.5" fill-opacity="0.85"/>
<circle cx="292.2" cy="411.9" r="1.45" fill="#7a7ae0" stroke="#4040b8" stroke-width="0.5" fill-opacity="0.85"/>
<circle cx="293.5" cy="413" r="1.45" fill="#7a7ae0" stroke="#4040b8" stroke-width="0.5" fill-opacity="0.85"/>
<circle cx="294.4" cy="413.7" r="1.45" fill="#7a7ae0" stroke="#4040b8" stroke-width="0.5" fill-opacity="0.85"/>
<circle cx="295.5" cy="413.2" r="1.45" fill="#7a7ae0" stroke="#4040b8" stroke-width="0.5" fill-opacity="0.85"/>
<circle cx="297.1" cy="412.9" r="1.45" fill="#7a7ae0" stroke="#4040b8" stroke-width="0.5" fill-opacity="0.85"/>
<circle cx="298.3" cy="414" r="1.45" fill="#7a7ae0" stroke="#4040b8" stroke-width="0.5" fill-opacity="0.85"/>
<circle cx="299.9" cy="413" r="1.45" fill="#7a7ae0" stroke="#4040b8" stroke-width="0.5" fill-opacity="0.85"/>
<circle cx="300.3" cy="414.1" r="1.45" fill="#7a7ae0" stroke="#4040b8" stroke-width="0.5" fill-opacity="0.85"/>
<circle cx="302.6" cy="412.6" r="1.45" fill="#7a7ae0" stroke="#4040b8" stroke-width="0.5" fill-opacity="0.85"/>
<circle cx="302.7" cy="414.5" r="1.45" fill="#7a7ae0" stroke="#4040b8" stroke-width="0.5" fill-opacity="0.85"/>
<circle cx="305" cy="416.8" r="1.45" fill="#7a7ae0" stroke="#4040b8" stroke-width="0.5" fill-opacity="0.85"/>
<circle cx="305.9" cy="412.5" r="1.45" fill="#7a7ae0" stroke="#4040b8" stroke-width="0.5" fill-opacity="0.85"/>
<circle cx="307.4" cy="413.2" r="1.45" fill="#7a7ae0" stroke="#4040b8" stroke-width="0.5" fill-opacity="0.85"/>
<circle cx="307.9" cy="412.5" r="1.45" fill="#7a7ae0" stroke="#4040b8" stroke-width="0.5" fill-opacity="0.85"/>
<circle cx="309.4" cy="413.1" r="1.45" fill="#7a7ae0" stroke="#4040b8" stroke-width="0.5" fill-opacity="0.85"/>
<circle cx="310.3" cy="416.9" r="1.45" fill="#7a7ae0" stroke="#4040b8" stroke-width="0.5" fill-opacity="0.85"/>
<circle cx="311.6" cy="416.1" r="1.45" fill="#7a7ae0" stroke="#4040b8" stroke-width="0.5" fill-opacity="0.85"/>
<circle cx="313.1" cy="413.7" r="1.45" fill="#7a7ae0" stroke="#4040b8" stroke-width="0.5" fill-opacity="0.85"/>
<circle cx="314" cy="414.7" r="1.45" fill="#7a7ae0" stroke="#4040b8" stroke-width="0.5" fill-opacity="0.85"/>
<circle cx="316.2" cy="412.5" r="1.45" fill="#7a7ae0" stroke="#4040b8" stroke-width="0.5" fill-opacity="0.85"/>
<circle cx="316.4" cy="417" r="1.45" fill="#7a7ae0" stroke="#4040b8" stroke-width="0.5" fill-opacity="0.85"/>
<circle cx="317.6" cy="415.7" r="1.45" fill="#7a7ae0" stroke="#4040b8" stroke-width="0.5" fill-opacity="0.85"/>
<circle cx="341.8" cy="412.9" r="1.45" fill="#7a7ae0" stroke="#4040b8" stroke-width="0.5" fill-opacity="0.85"/>
<circle cx="292.6" cy="414.4" r="1.45" fill="#7a7ae0" stroke="#4040b8" stroke-width="0.5" fill-opacity="0.85"/>
<polyline points="256.6,341.2 257.3,342.8 257.9,344.3 258.6,345.7 259.2,347.1 259.9,348.4 260.5,349.7 261.2,350.8 261.8,351.9 262.5,353 263.2,354 263.8,355 264.5,355.9 265.1,356.8 265.8,357.6 266.4,358.4 267.1,359.1 267.7,359.8 268.4,360.5 269,361.1 269.7,361.7 270.4,362.3 271,362.8 271.7,363.4 272.3,363.9 273,364.3 273.6,364.8 274.3,365.2 274.9,365.6 275.6,366 276.2,366.3 276.9,366.7 277.6,367 278.2,367.3 278.9,367.6 279.5,367.9 280.2,368.1 280.8,368.4 281.5,368.6 282.1,368.8 282.8,369 283.5,369.3 284.1,369.4 284.8,369.6 285.4,369.8 286.1,370 286.7,370.1 287.4,370.2 288,370.4 288.7,370.5 289.4,370.6 290,370.7 290.7,370.9 291.3,371 292,371.1 292.6,371.1 293.3,371.2 293.9,371.3 294.6,371.4 295.2,371.5 295.9,371.5 296.6,371.6 297.2,371.7 297.9,371.7 298.5,371.8 299.2,371.8 299.8,371.9 300.5,371.9 301.1,371.9 301.8,372 302.5,372 303.1,372 303.8,372.1 304.4,372.1 305.1,372.1 305.7,372.1 306.4,372.2 307,372.2 307.7,372.2 308.3,372.2 309,372.2 309.7,372.2 310.3,372.2 311,372.3 311.6,372.3 312.3,372.3 312.9,372.3 313.6,372.3 314.2,372.3 314.9,372.3 315.6,372.3 316.2,372.3 316.9,372.3 317.5,372.3 318.2,372.3 318.8,372.3 319.5,372.3 320.1,372.3 320.8,372.3 321.4,372.3 322.1,372.3 322.8,372.3 323.4,372.2 324.1,372.2 324.7,372.2 325.4,372.2 326,372.2 326.7,372.2 327.3,372.2 328,372.2 328.7,372.2 329.3,372.2 330,372.2 330.6,372.1 331.3,372.1 331.9,372.1 332.6,372.1 333.2,372.1 333.9,372.1 334.5,372.1 335.2,372.1 335.9,372 336.5,372 337.2,372 337.8,372 338.5,372 339.1,372 339.8,372 340.4,371.9 341.1,371.9 341.8,371.9 342.4,371.9 343.1,371.9 343.7,371.9 344.4,371.9 345,371.8 345.7,371.8 346.3,371.8 347,371.8 347.6,371.8 348.3,371.8 348.6,371.8" fill="none" stroke="#d84848" stroke-width="1.15"/>
<polyline points="256.6,341.2 257.3,345.3 257.9,349.2 258.6,352.8 259.2,356.3 259.9,359.5 260.5,362.6 261.2,365.6 261.8,368.3 262.5,370.9 263.2,373.4 263.8,375.7 264.5,377.9 265.1,380 265.8,382 266.4,383.9 267.1,385.6 267.7,387.3 268.4,388.9 269,390.4 269.7,391.8 270.4,393.1 271,394.4 271.7,395.6 272.3,396.7 273,397.8 273.6,398.8 274.3,399.7 274.9,400.6 275.6,401.4 276.2,402.2 276.9,403 277.6,403.7 278.2,404.4 278.9,405 279.5,405.6 280.2,406.2 280.8,406.7 281.5,407.2 282.1,407.7 282.8,408.2 283.5,408.6 284.1,409 284.8,409.4 285.4,409.7 286.1,410 286.7,410.4 287.4,410.7 288,410.9 288.7,411.2 289.4,411.4 290,411.7 290.7,411.9 291.3,412.1 292,412.3 292.6,412.5 293.3,412.7 293.9,412.8 294.6,413 295.2,413.1 295.9,413.3 296.6,413.4 297.2,413.5 297.9,413.6 298.5,413.7 299.2,413.8 299.8,413.9 300.5,414 301.1,414.1 301.8,414.1 302.5,414.2 303.1,414.3 303.8,414.3 304.4,414.4 305.1,414.4 305.7,414.5 306.4,414.5 307,414.5 307.7,414.6 308.3,414.6 309,414.6 309.7,414.7 310.3,414.7 311,414.7 311.6,414.7 312.3,414.7 312.9,414.8 313.6,414.8 314.2,414.8 314.9,414.8 315.6,414.8 316.2,414.8 316.9,414.8 317.5,414.8 318.2,414.8 318.8,414.8 319.5,414.8 320.1,414.8 320.8,414.8 321.4,414.8 322.1,414.8 322.8,414.8 323.4,414.8 324.1,414.8 324.7,414.8 325.4,414.8 326,414.8 326.7,414.8 327.3,414.7 328,414.7 328.7,414.7 329.3,414.7 330,414.7 330.6,414.7 331.3,414.7 331.9,414.7 332.6,414.6 333.2,414.6 333.9,414.6 334.5,414.6 335.2,414.6 335.9,414.6 336.5,414.5 337.2,414.5 337.8,414.5 338.5,414.5 339.1,414.5 339.8,414.5 340.4,414.4 341.1,414.4 341.8,414.4 342.4,414.4 343.1,414.4 343.7,414.3 344.4,414.3 345,414.3 345.7,414.3 346.3,414.3 347,414.2 347.6,414.2 348.3,414.2 348.6,414.2" fill="none" stroke="#2c2ca0" stroke-width="1.15"/>
<line x1="223.4" y1="329.8" x2="348.6" y2="329.8" stroke="#222" stroke-width="1"/>
<line x1="223.4" y1="427.3" x2="348.6" y2="427.3" stroke="#444" stroke-width="1.2"/>
<line x1="223.4" y1="329.8" x2="223.4" y2="427.3" stroke="#555" stroke-width="1"/>
<line x1="348.6" y1="329.8" x2="348.6" y2="427.3" stroke="#777" stroke-width="1"/>
<line x1="223.4" y1="341.2" x2="226" y2="341.2" stroke="#555" stroke-width="0.8"/>
<line x1="348.6" y1="341.2" x2="346" y2="341.2" stroke="#555" stroke-width="0.8"/>
<text x="221.4" y="343.6" font-size="6.8" fill="#333" stroke="#333" text-anchor="end" >1.0</text>
<line x1="223.4" y1="355.6" x2="225" y2="355.6" stroke="#555" stroke-width="0.8"/>
<line x1="348.6" y1="355.6" x2="347" y2="355.6" stroke="#555" stroke-width="0.8"/>
<line x1="223.4" y1="369.9" x2="226" y2="369.9" stroke="#555" stroke-width="0.8"/>
<line x1="348.6" y1="369.9" x2="346" y2="369.9" stroke="#555" stroke-width="0.8"/>
<text x="221.4" y="372.3" font-size="6.8" fill="#333" stroke="#333" text-anchor="end" >0.8</text>
<line x1="223.4" y1="384.2" x2="225" y2="384.2" stroke="#555" stroke-width="0.8"/>
<line x1="348.6" y1="384.2" x2="347" y2="384.2" stroke="#555" stroke-width="0.8"/>
<line x1="223.4" y1="398.6" x2="226" y2="398.6" stroke="#555" stroke-width="0.8"/>
<line x1="348.6" y1="398.6" x2="346" y2="398.6" stroke="#555" stroke-width="0.8"/>
<text x="221.4" y="401" font-size="6.8" fill="#333" stroke="#333" text-anchor="end" >0.6</text>
<line x1="223.4" y1="412.9" x2="225" y2="412.9" stroke="#555" stroke-width="0.8"/>
<line x1="348.6" y1="412.9" x2="347" y2="412.9" stroke="#555" stroke-width="0.8"/>
<line x1="223.4" y1="427.3" x2="226" y2="427.3" stroke="#555" stroke-width="0.8"/>
<line x1="348.6" y1="427.3" x2="346" y2="427.3" stroke="#555" stroke-width="0.8"/>
<text x="221.4" y="429.7" font-size="6.8" fill="#333" stroke="#333" text-anchor="end" >0.4</text>
<line x1="240.2" y1="329.8" x2="240.2" y2="331.4" stroke="#555" stroke-width="0.8"/>
<line x1="240.2" y1="427.3" x2="240.2" y2="425.7" stroke="#555" stroke-width="0.8"/>
<line x1="256.6" y1="329.8" x2="256.6" y2="332.4" stroke="#555" stroke-width="0.8"/>
<line x1="256.6" y1="427.3" x2="256.6" y2="424.7" stroke="#555" stroke-width="0.8"/>
<line x1="273" y1="329.8" x2="273" y2="331.4" stroke="#555" stroke-width="0.8"/>
<line x1="273" y1="427.3" x2="273" y2="425.7" stroke="#555" stroke-width="0.8"/>
<line x1="289.4" y1="329.8" x2="289.4" y2="332.4" stroke="#555" stroke-width="0.8"/>
<line x1="289.4" y1="427.3" x2="289.4" y2="424.7" stroke="#555" stroke-width="0.8"/>
<line x1="305.7" y1="329.8" x2="305.7" y2="331.4" stroke="#555" stroke-width="0.8"/>
<line x1="305.7" y1="427.3" x2="305.7" y2="425.7" stroke="#555" stroke-width="0.8"/>
<line x1="322.1" y1="329.8" x2="322.1" y2="332.4" stroke="#555" stroke-width="0.8"/>
<line x1="322.1" y1="427.3" x2="322.1" y2="424.7" stroke="#555" stroke-width="0.8"/>
<line x1="338.5" y1="329.8" x2="338.5" y2="331.4" stroke="#555" stroke-width="0.8"/>
<line x1="338.5" y1="427.3" x2="338.5" y2="425.7" stroke="#555" stroke-width="0.8"/>
<line x1="58.5" y1="331" x2="181.2" y2="331" stroke="#1a1a1a" stroke-width="1.5"/>
<line x1="223.4" y1="329.6" x2="348.6" y2="329.6" stroke="#1a1a1a" stroke-width="1.5"/>
<text x="60.2" y="432.7" font-size="7.3" fill="#333" stroke="#333" text-anchor="middle" >-0.5</text>
<text x="91" y="432.7" font-size="7.3" fill="#333" stroke="#333" text-anchor="middle" >0.0</text>
<text x="123.4" y="432.7" font-size="7.3" fill="#333" stroke="#333" text-anchor="middle" >0.5</text>
<text x="155.8" y="432.7" font-size="7.3" fill="#333" stroke="#333" text-anchor="middle" >1.0</text>
<text x="224.7" y="435" font-size="7.5" fill="#333" stroke="#333" text-anchor="middle" >-0.5</text>
<text x="257.3" y="435" font-size="7.5" fill="#333" stroke="#333" text-anchor="middle" >0.0</text>
<text x="290" y="435" font-size="7.5" fill="#333" stroke="#333" text-anchor="middle" >0.5</text>
<text x="322.6" y="435" font-size="7.5" fill="#333" stroke="#333" text-anchor="middle" >1.0</text>
<text x="122.2" y="442" font-size="7.7" fill="#333" stroke="#333" text-anchor="middle" >Time delay (ps)</text>
<text x="287.5" y="444.2" font-size="7.8" fill="#333" stroke="#333" text-anchor="middle" >Time delay (ps)</text>
<text transform="translate(35.6,316.7) rotate(-90)" font-size="6.9" fill="#333" stroke="#333" text-anchor="middle">Normalized asymmetries</text>
<text transform="translate(206.1,320) rotate(-90)" font-size="6.95" fill="#333" stroke="#333" text-anchor="middle">Normalized asymmetries</text>
<text x="108.8" y="287.1" font-size="9.3" fill="#111" stroke="#111" stroke-width="0.12" textLength="70" lengthAdjust="spacing"><tspan font-style="italic">X</tspan> = Ru (1.7 nm)</text>
<text x="118.9" y="341.3" font-size="9.4" fill="#111" stroke="#111" stroke-width="0.12" textLength="59.8" lengthAdjust="spacing"><tspan font-style="italic">X</tspan> = Ta (2 nm)</text>
<text x="285.6" y="243" font-size="9.4" fill="#111" stroke="#111" stroke-width="0.12" textLength="58.6" lengthAdjust="spacing"><tspan font-style="italic">X</tspan> = W (2 nm)</text>
<text x="272.6" y="338.5" font-size="9.4" fill="#111" stroke="#111" stroke-width="0.12" textLength="71.6" lengthAdjust="spacing"><tspan font-style="italic">X</tspan> = Si<tspan font-size="6" dy="1.5">3</tspan><tspan dy="-1.5">N</tspan><tspan font-size="6" dy="1.5">4</tspan><tspan dy="-1.5"> (3 nm)</tspan></text>
<text x="133.6" y="271.3" font-size="12.2" fill="#dc4848" stroke="#dc4848" text-anchor="start" >Fe</text>
<text x="134.4" y="353.2" font-size="12.2" fill="#dc4848" stroke="#dc4848" text-anchor="start" >Fe</text>
<text x="301.2" y="272.1" font-size="12.2" fill="#dc4848" stroke="#dc4848" text-anchor="start" >Fe</text>
<text x="301.2" y="361.7" font-size="12.2" fill="#dc4848" stroke="#dc4848" text-anchor="start" >Fe</text>
<text x="133.6" y="311.6" font-size="12.2" fill="#2828a8" stroke="#2828a8" text-anchor="start" >Ni</text>
<text x="134.4" y="404.3" font-size="12.2" fill="#2828a8" stroke="#2828a8" text-anchor="start" >Ni</text>
<text x="300.6" y="309.5" font-size="12.2" fill="#2828a8" stroke="#2828a8" text-anchor="start" >Ni</text>
<text x="301.2" y="410" font-size="12.2" fill="#2828a8" stroke="#2828a8" text-anchor="start" >Ni</text>
<text x="66.5" y="277.9" font-size="7.9" fill="#333" stroke="#333" text-anchor="start" >(a)</text>
<text x="66.2" y="365.9" font-size="7.9" fill="#333" stroke="#333" text-anchor="start" >(b)</text>
<text x="231.8" y="264.2" font-size="7.9" fill="#333" stroke="#333" text-anchor="start" >(c)</text>
<text x="231.8" y="357.8" font-size="7.9" fill="#333" stroke="#333" text-anchor="start" >(d)</text>
<text x="488.3" y="240.2" font-size="11.5" fill="#111" stroke="#111" text-anchor="start" >Ru</text>
<text x="490.2" y="332.8" font-size="11.5" fill="#111" stroke="#111" text-anchor="start" >Ta, W</text>
<text x="491.8" y="421.7" font-size="11.5" fill="#111" stroke="#111" text-anchor="start" >Si<tspan font-size="8" dy="3">3</tspan><tspan dy="-3">N</tspan><tspan font-size="8" dy="3">4</tspan></text>
<text x="385.4" y="335.6" font-size="11.8" fill="#111" stroke="#111" text-anchor="start" >Heating</text>
<line x1="497.8" y1="251.7" x2="497.8" y2="309.4" stroke="#111" stroke-width="1.8"/>
<polygon points="494.4,307.9 501.2,307.9 497.8,315.4" fill="#111"/>
<line x1="498.2" y1="341.2" x2="498.2" y2="400.2" stroke="#111" stroke-width="1.8"/>
<polygon points="494.8,398.7 501.6,398.7 498.2,406.2" fill="#111"/>
<rect x="415.6" y="236" width="4.6" height="18" fill="url(#gshaft)"/>
<polygon points="410.1,253.3 425.5,253.3 417.8,260.3" fill="url(#ghead)"/>
<line x1="409" y1="235.5" x2="430.5" y2="235.5" stroke="#4c6cc8" stroke-width="1.8"/>
<polygon points="407.6,235.5 411.2,233.3 411.2,237.7" fill="#4c6cc8"/>
<polygon points="432,235.5 428.4,233.3 428.4,237.7" fill="#4c6cc8"/>
<ellipse cx="417.6" cy="235.5" rx="4.6" ry="3.9" fill="url(#gsph)"/>
<text x="435.2" y="244.4" font-size="8.2" font-weight="bold" fill="#111" stroke="#111" stroke-width="0.12">Spin</text>
<text x="435.2" y="254.6" font-size="8.2" font-weight="bold" fill="#111" stroke="#111" stroke-width="0.12">Current</text>
<text x="422" y="348.7" font-size="8.2" font-weight="bold" fill="#111" stroke="#111" stroke-width="0.12">NO</text>
<text x="422" y="358.3" font-size="8.2" font-weight="bold" fill="#111" stroke="#111" stroke-width="0.12">Spin</text>
<text x="422" y="368" font-size="8.2" font-weight="bold" fill="#111" stroke="#111" stroke-width="0.12">Current</text>
<g filter="url(#soft)">
<rect x="387.2" y="266.5" width="96.5" height="54.5" fill="url(#gbg)"/>
<ellipse cx="435" cy="314.5" rx="30" ry="3" fill="#555" opacity="0.35"/>
<polygon points="407.5,274.1 409.5,270.5 462.5,270.5 452,274.1" fill="#c9ccd2"/>
<line x1="410.5" y1="272.9" x2="450" y2="272.9" stroke="#9a9aaa" stroke-width="0.8" stroke-dasharray="1 1"/>
<rect x="407.5" y="274.1" width="44.5" height="9.9" fill="#4f8fe6"/>
<polygon points="452,274.1 462.5,270.5 462.5,279.2 452,284" fill="#4f8fe6" opacity="0.88"/>
<polygon points="452,274.1 462.5,270.5 462.5,279.2 452,284" fill="#000" opacity="0.12"/>
<text x="457.2" y="279.9" font-size="7" font-weight="bold" fill="#fff" text-anchor="middle" transform="skewY(-20 ) " opacity="0.9" style="display:none">Ni</text>
<text font-size="7.2" font-weight="bold" fill="#ffffff" fill-opacity="0.85" text-anchor="middle" transform="translate(457.2,280.4) skewY(-19)">Ni</text>
<line x1="411" y1="278.9" x2="425" y2="278.9" stroke="#fff" stroke-width="1.1" opacity="0.75"/>
<polygon points="410,278.9 412.5,277.3 412.5,280.5" fill="#fff" opacity="0.75"/>
<polygon points="426,278.9 423.5,277.3 423.5,280.5" fill="#fff" opacity="0.75"/>
<ellipse cx="418" cy="278.9" rx="3.2" ry="2.4" fill="#fff" opacity="0.8"/>
<line x1="431" y1="278.9" x2="445" y2="278.9" stroke="#fff" stroke-width="1.1" opacity="0.75"/>
<polygon points="430,278.9 432.5,277.3 432.5,280.5" fill="#fff" opacity="0.75"/>
<polygon points="446,278.9 443.5,277.3 443.5,280.5" fill="#fff" opacity="0.75"/>
<ellipse cx="438" cy="278.9" rx="3.2" ry="2.4" fill="#fff" opacity="0.8"/>
<rect x="407.5" y="283.7" width="44.5" height="11.5" fill="#f2b228"/>
<polygon points="452,283.7 462.5,278.9 462.5,289.1 452,295.2" fill="#f2b228" opacity="0.88"/>
<polygon points="452,283.7 462.5,278.9 462.5,289.1 452,295.2" fill="#000" opacity="0.12"/>
<text x="457.2" y="290.3" font-size="7" font-weight="bold" fill="#fff" text-anchor="middle" transform="skewY(-20 ) " opacity="0.9" style="display:none">Ru</text>
<text font-size="7.2" font-weight="bold" fill="#ffffff" fill-opacity="0.85" text-anchor="middle" transform="translate(457.2,290.8) skewY(-19)">Ru</text>
<text x="430.2" y="293.3" font-size="10" font-weight="bold" fill="#fff3b8" text-anchor="middle" textLength="40" lengthAdjust="spacingAndGlyphs" fill-opacity="0.9">Conductor</text>
<rect x="407.5" y="294.9" width="44.5" height="7.5" fill="#d8442c"/>
<polygon points="452,294.9 462.5,288.8 462.5,295.4 452,302.4" fill="#d8442c" opacity="0.88"/>
<polygon points="452,294.9 462.5,288.8 462.5,295.4 452,302.4" fill="#000" opacity="0.12"/>
<text x="457.2" y="299.5" font-size="7" font-weight="bold" fill="#fff" text-anchor="middle" transform="skewY(-20 ) " opacity="0.9" style="display:none">Cu</text>
<text font-size="7.2" font-weight="bold" fill="#ffffff" fill-opacity="0.85" text-anchor="middle" transform="translate(457.2,300) skewY(-19)">Cu</text>
<line x1="411" y1="298.5" x2="425" y2="298.5" stroke="#fff" stroke-width="1.1" opacity="0.75"/>
<polygon points="410,298.5 412.5,296.9 412.5,300.1" fill="#fff" opacity="0.75"/>
<polygon points="426,298.5 423.5,296.9 423.5,300.1" fill="#fff" opacity="0.75"/>
<ellipse cx="418" cy="298.5" rx="3.2" ry="2.4" fill="#fff" opacity="0.8"/>
<line x1="431" y1="298.5" x2="445" y2="298.5" stroke="#fff" stroke-width="1.1" opacity="0.75"/>
<polygon points="430,298.5 432.5,296.9 432.5,300.1" fill="#fff" opacity="0.75"/>
<polygon points="446,298.5 443.5,296.9 443.5,300.1" fill="#fff" opacity="0.75"/>
<ellipse cx="438" cy="298.5" rx="3.2" ry="2.4" fill="#fff" opacity="0.8"/>
<rect x="407.5" y="302.1" width="44.5" height="11.7" fill="#f2882c"/>
<polygon points="452,302.1 462.5,295.1 462.5,305.5 452,313.8" fill="#f2882c" opacity="0.88"/>
<polygon points="452,302.1 462.5,295.1 462.5,305.5 452,313.8" fill="#000" opacity="0.12"/>
<text x="457.2" y="308.8" font-size="7" font-weight="bold" fill="#fff" text-anchor="middle" transform="skewY(-20 ) " opacity="0.9" style="display:none">Ta</text>
<text font-size="7.2" font-weight="bold" fill="#ffffff" fill-opacity="0.85" text-anchor="middle" transform="translate(457.2,309.3) skewY(-19)">Ta</text>
<text x="430.2" y="311.9" font-size="10" font-weight="bold" fill="#fff3b8" text-anchor="middle" textLength="40" lengthAdjust="spacingAndGlyphs" fill-opacity="0.9">Scatterer</text>
<rect x="387.2" y="375.2" width="96.5" height="59.2" fill="url(#gbg)"/>
<ellipse cx="435" cy="424.2" rx="30" ry="3" fill="#555" opacity="0.35"/>
<polygon points="407.5,383.8 409.5,380.2 462.5,380.2 452,383.8" fill="#c9ccd2"/>
<line x1="410.5" y1="382.6" x2="450" y2="382.6" stroke="#9a9aaa" stroke-width="0.8" stroke-dasharray="1 1"/>
<rect x="407.5" y="383.8" width="44.5" height="9.9" fill="#4f8fe6"/>
<polygon points="452,383.8 462.5,380.2 462.5,388.9 452,393.7" fill="#4f8fe6" opacity="0.88"/>
<polygon points="452,383.8 462.5,380.2 462.5,388.9 452,393.7" fill="#000" opacity="0.12"/>
<text x="457.2" y="389.6" font-size="7" font-weight="bold" fill="#fff" text-anchor="middle" transform="skewY(-20 ) " opacity="0.9" style="display:none">Ni</text>
<text font-size="7.2" font-weight="bold" fill="#ffffff" fill-opacity="0.85" text-anchor="middle" transform="translate(457.2,390.1) skewY(-19)">Ni</text>
<line x1="411" y1="388.6" x2="425" y2="388.6" stroke="#fff" stroke-width="1.1" opacity="0.75"/>
<polygon points="410,388.6 412.5,387 412.5,390.2" fill="#fff" opacity="0.75"/>
<polygon points="426,388.6 423.5,387 423.5,390.2" fill="#fff" opacity="0.75"/>
<ellipse cx="418" cy="388.6" rx="3.2" ry="2.4" fill="#fff" opacity="0.8"/>
<line x1="431" y1="388.6" x2="445" y2="388.6" stroke="#fff" stroke-width="1.1" opacity="0.75"/>
<polygon points="430,388.6 432.5,387 432.5,390.2" fill="#fff" opacity="0.75"/>
<polygon points="446,388.6 443.5,387 443.5,390.2" fill="#fff" opacity="0.75"/>
<ellipse cx="438" cy="388.6" rx="3.2" ry="2.4" fill="#fff" opacity="0.8"/>
<rect x="407.5" y="393.4" width="44.5" height="11.5" fill="#9a9aa2"/>
<polygon points="452,393.4 462.5,388.6 462.5,398.8 452,404.9" fill="#9a9aa2" opacity="0.88"/>
<polygon points="452,393.4 462.5,388.6 462.5,398.8 452,404.9" fill="#000" opacity="0.12"/>
<text x="457.2" y="400" font-size="7" font-weight="bold" fill="#fff" text-anchor="middle" transform="skewY(-20 ) " opacity="0.9" style="display:none">SiN</text>
<text font-size="7.2" font-weight="bold" fill="#ffffff" fill-opacity="0.85" text-anchor="middle" transform="translate(457.2,400.5) skewY(-19)">SiN</text>
<text x="430.2" y="403" font-size="10" font-weight="bold" fill="#fff3b8" text-anchor="middle" textLength="40" lengthAdjust="spacingAndGlyphs" fill-opacity="0.9">Insulator</text>
<rect x="407.5" y="404.6" width="44.5" height="7.5" fill="#d8442c"/>
<polygon points="452,404.6 462.5,398.5 462.5,405.1 452,412.1" fill="#d8442c" opacity="0.88"/>
<polygon points="452,404.6 462.5,398.5 462.5,405.1 452,412.1" fill="#000" opacity="0.12"/>
<text x="457.2" y="409.2" font-size="7" font-weight="bold" fill="#fff" text-anchor="middle" transform="skewY(-20 ) " opacity="0.9" style="display:none">Cu</text>
<text font-size="7.2" font-weight="bold" fill="#ffffff" fill-opacity="0.85" text-anchor="middle" transform="translate(457.2,409.7) skewY(-19)">Cu</text>
<line x1="411" y1="408.2" x2="425" y2="408.2" stroke="#fff" stroke-width="1.1" opacity="0.75"/>
<polygon points="410,408.2 412.5,406.6 412.5,409.8" fill="#fff" opacity="0.75"/>
<polygon points="426,408.2 423.5,406.6 423.5,409.8" fill="#fff" opacity="0.75"/>
<ellipse cx="418" cy="408.2" rx="3.2" ry="2.4" fill="#fff" opacity="0.8"/>
<line x1="431" y1="408.2" x2="445" y2="408.2" stroke="#fff" stroke-width="1.1" opacity="0.75"/>
<polygon points="430,408.2 432.5,406.6 432.5,409.8" fill="#fff" opacity="0.75"/>
<polygon points="446,408.2 443.5,406.6 443.5,409.8" fill="#fff" opacity="0.75"/>
<ellipse cx="438" cy="408.2" rx="3.2" ry="2.4" fill="#fff" opacity="0.8"/>
<rect x="407.5" y="411.8" width="44.5" height="11.7" fill="#f2882c"/>
<polygon points="452,411.8 462.5,404.8 462.5,415.2 452,423.5" fill="#f2882c" opacity="0.88"/>
<polygon points="452,411.8 462.5,404.8 462.5,415.2 452,423.5" fill="#000" opacity="0.12"/>
<text x="457.2" y="418.5" font-size="7" font-weight="bold" fill="#fff" text-anchor="middle" transform="skewY(-20 ) " opacity="0.9" style="display:none">Ta</text>
<text font-size="7.2" font-weight="bold" fill="#ffffff" fill-opacity="0.85" text-anchor="middle" transform="translate(457.2,419) skewY(-19)">Ta</text>
<text x="430.2" y="421.6" font-size="10" font-weight="bold" fill="#fff3b8" text-anchor="middle" textLength="40" lengthAdjust="spacingAndGlyphs" fill-opacity="0.9">Scatterer</text>
</g>
</svg>
</body></html>
